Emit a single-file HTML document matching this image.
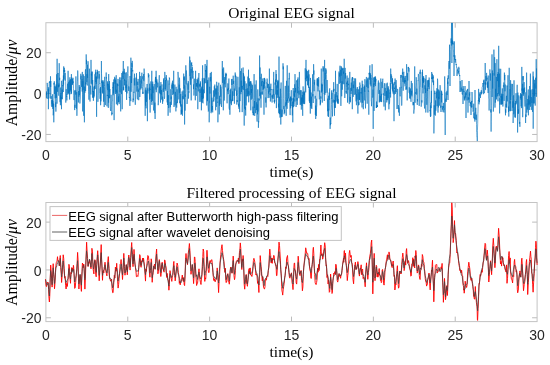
<!DOCTYPE html>
<html><head><meta charset="utf-8"><style>
html,body{margin:0;padding:0;background:#fff;}
svg{display:block;}
.tk{font-family:"Liberation Sans",Arial,sans-serif;font-size:14px;fill:#262626;}
.ti{font-family:"Liberation Serif","Times New Roman",serif;font-size:15.5px;fill:#000;}
.lg{font-family:"Liberation Sans",Arial,sans-serif;font-size:13px;fill:#000;}
</style></head><body>
<svg width="550" height="365" viewBox="0 0 550 365">
<line x1="127.77" y1="141.60" x2="127.77" y2="136.60" stroke="#bcbcbc" stroke-width="1"/>
<line x1="127.77" y1="22.70" x2="127.77" y2="27.70" stroke="#bcbcbc" stroke-width="1"/>
<line x1="209.63" y1="141.60" x2="209.63" y2="136.60" stroke="#bcbcbc" stroke-width="1"/>
<line x1="209.63" y1="22.70" x2="209.63" y2="27.70" stroke="#bcbcbc" stroke-width="1"/>
<line x1="291.50" y1="141.60" x2="291.50" y2="136.60" stroke="#bcbcbc" stroke-width="1"/>
<line x1="291.50" y1="22.70" x2="291.50" y2="27.70" stroke="#bcbcbc" stroke-width="1"/>
<line x1="373.37" y1="141.60" x2="373.37" y2="136.60" stroke="#bcbcbc" stroke-width="1"/>
<line x1="373.37" y1="22.70" x2="373.37" y2="27.70" stroke="#bcbcbc" stroke-width="1"/>
<line x1="455.23" y1="141.60" x2="455.23" y2="136.60" stroke="#bcbcbc" stroke-width="1"/>
<line x1="455.23" y1="22.70" x2="455.23" y2="27.70" stroke="#bcbcbc" stroke-width="1"/>
<line x1="45.90" y1="134.45" x2="50.90" y2="134.45" stroke="#bcbcbc" stroke-width="1"/>
<line x1="537.10" y1="134.45" x2="532.10" y2="134.45" stroke="#bcbcbc" stroke-width="1"/>
<line x1="45.90" y1="93.59" x2="50.90" y2="93.59" stroke="#bcbcbc" stroke-width="1"/>
<line x1="537.10" y1="93.59" x2="532.10" y2="93.59" stroke="#bcbcbc" stroke-width="1"/>
<line x1="45.90" y1="52.73" x2="50.90" y2="52.73" stroke="#bcbcbc" stroke-width="1"/>
<line x1="537.10" y1="52.73" x2="532.10" y2="52.73" stroke="#bcbcbc" stroke-width="1"/>
<rect x="45.90" y="22.70" width="491.20" height="118.90" fill="none" stroke="#c4c4c4" stroke-width="1"/>
<line x1="127.77" y1="321.60" x2="127.77" y2="316.60" stroke="#bcbcbc" stroke-width="1"/>
<line x1="127.77" y1="202.50" x2="127.77" y2="207.50" stroke="#bcbcbc" stroke-width="1"/>
<line x1="209.63" y1="321.60" x2="209.63" y2="316.60" stroke="#bcbcbc" stroke-width="1"/>
<line x1="209.63" y1="202.50" x2="209.63" y2="207.50" stroke="#bcbcbc" stroke-width="1"/>
<line x1="291.50" y1="321.60" x2="291.50" y2="316.60" stroke="#bcbcbc" stroke-width="1"/>
<line x1="291.50" y1="202.50" x2="291.50" y2="207.50" stroke="#bcbcbc" stroke-width="1"/>
<line x1="373.37" y1="321.60" x2="373.37" y2="316.60" stroke="#bcbcbc" stroke-width="1"/>
<line x1="373.37" y1="202.50" x2="373.37" y2="207.50" stroke="#bcbcbc" stroke-width="1"/>
<line x1="455.23" y1="321.60" x2="455.23" y2="316.60" stroke="#bcbcbc" stroke-width="1"/>
<line x1="455.23" y1="202.50" x2="455.23" y2="207.50" stroke="#bcbcbc" stroke-width="1"/>
<line x1="45.90" y1="317.77" x2="50.90" y2="317.77" stroke="#bcbcbc" stroke-width="1"/>
<line x1="537.10" y1="317.77" x2="532.10" y2="317.77" stroke="#bcbcbc" stroke-width="1"/>
<line x1="45.90" y1="269.94" x2="50.90" y2="269.94" stroke="#bcbcbc" stroke-width="1"/>
<line x1="537.10" y1="269.94" x2="532.10" y2="269.94" stroke="#bcbcbc" stroke-width="1"/>
<line x1="45.90" y1="222.11" x2="50.90" y2="222.11" stroke="#bcbcbc" stroke-width="1"/>
<line x1="537.10" y1="222.11" x2="532.10" y2="222.11" stroke="#bcbcbc" stroke-width="1"/>
<rect x="45.90" y="202.50" width="491.20" height="119.10" fill="none" stroke="#c4c4c4" stroke-width="1"/>
<clipPath id="ct"><rect x="45.9" y="22.7" width="491.20000000000005" height="118.89999999999999"/></clipPath>
<polyline clip-path="url(#ct)" fill="none" stroke="#0072BD" stroke-width="0.6" stroke-linejoin="round" points="45.9,95.8 46.0,98.0 46.2,93.4 46.3,95.2 46.5,91.5 46.6,96.7 46.8,96.8 46.9,98.5 47.1,86.4 47.2,82.9 47.4,84.6 47.5,86.6 47.7,91.1 47.8,91.9 48.0,93.5 48.1,99.0 48.3,89.0 48.4,109.2 48.6,87.3 48.7,94.1 48.9,90.7 49.0,90.8 49.2,82.5 49.3,81.7 49.5,81.6 49.6,82.8 49.8,81.4 49.9,86.8 50.1,98.4 50.2,95.9 50.4,85.3 50.5,76.3 50.7,86.9 50.8,81.0 51.0,93.9 51.1,98.9 51.3,96.2 51.4,106.0 51.6,106.7 51.7,105.6 51.9,100.2 52.0,103.7 52.2,99.9 52.3,101.6 52.5,106.7 52.6,94.3 52.8,108.9 52.9,100.8 53.1,103.2 53.2,115.3 53.4,112.9 53.5,103.6 53.7,104.1 53.8,122.3 54.0,82.9 54.1,84.6 54.3,81.3 54.4,84.6 54.6,94.0 54.7,91.4 54.9,85.8 55.0,90.3 55.2,98.3 55.3,86.7 55.5,93.7 55.6,107.1 55.8,102.4 55.9,111.6 56.1,90.2 56.2,84.4 56.4,97.9 56.5,80.3 56.7,74.3 56.8,80.3 57.0,103.7 57.1,58.8 57.3,83.1 57.4,87.5 57.6,91.8 57.7,81.5 57.9,73.0 58.0,74.1 58.2,73.5 58.3,76.0 58.5,87.3 58.6,85.0 58.8,95.7 58.9,83.4 59.1,86.6 59.2,63.2 59.4,76.4 59.5,80.1 59.7,77.8 59.8,97.9 60.0,101.3 60.1,102.2 60.3,95.4 60.4,105.2 60.6,96.0 60.7,87.5 60.9,98.9 61.0,93.0 61.2,99.2 61.3,97.1 61.5,109.2 61.6,80.8 61.8,88.1 61.9,89.7 62.1,93.4 62.2,89.6 62.4,99.2 62.5,91.2 62.7,85.1 62.8,85.1 63.0,86.2 63.1,79.5 63.3,92.0 63.4,75.5 63.6,84.6 63.7,66.4 63.9,78.9 64.0,70.0 64.2,72.0 64.3,67.8 64.5,71.6 64.6,71.2 64.8,70.5 64.9,80.4 65.1,73.0 65.2,75.7 65.4,77.2 65.5,81.2 65.7,81.5 65.8,102.6 66.0,91.6 66.1,89.7 66.3,89.2 66.4,93.1 66.6,96.9 66.7,96.3 66.9,100.4 67.0,94.2 67.2,94.9 67.3,87.8 67.5,83.8 67.6,83.7 67.8,93.9 67.9,87.2 68.1,70.8 68.2,92.1 68.4,93.2 68.5,92.3 68.7,82.1 68.8,90.9 69.0,94.4 69.1,87.1 69.3,80.6 69.4,87.5 69.6,99.5 69.7,82.5 69.9,77.3 70.0,91.6 70.2,90.6 70.3,79.6 70.5,86.0 70.6,90.2 70.8,79.2 70.9,94.2 71.1,92.7 71.2,88.2 71.4,74.1 71.5,93.6 71.7,82.6 71.8,77.7 72.0,80.4 72.1,81.1 72.3,85.0 72.4,79.0 72.6,84.2 72.7,80.9 72.9,80.6 73.0,77.8 73.2,82.8 73.3,81.4 73.5,88.7 73.6,90.2 73.8,95.3 73.9,99.0 74.1,100.1 74.2,95.9 74.4,90.4 74.5,107.3 74.7,110.1 74.8,106.5 75.0,104.8 75.1,107.9 75.3,105.5 75.4,102.8 75.6,90.3 75.7,94.6 75.9,76.4 76.0,89.2 76.2,90.6 76.3,92.5 76.5,108.7 76.6,106.7 76.8,92.1 76.9,115.8 77.1,102.1 77.2,85.5 77.4,81.9 77.5,81.2 77.7,70.5 77.8,71.7 78.0,77.7 78.1,90.8 78.3,93.2 78.4,102.5 78.6,95.9 78.7,91.0 78.9,96.7 79.0,92.6 79.2,85.0 79.3,93.9 79.5,95.1 79.6,94.2 79.8,86.8 79.9,103.5 80.1,99.4 80.2,98.1 80.4,89.4 80.5,80.6 80.7,76.2 80.8,73.8 81.0,79.2 81.1,75.7 81.3,80.9 81.4,80.9 81.6,86.9 81.7,80.4 81.9,79.0 82.0,85.3 82.2,91.6 82.3,71.9 82.5,94.7 82.6,111.4 82.8,103.1 82.9,81.2 83.1,89.9 83.2,77.4 83.4,74.4 83.5,103.8 83.7,115.8 83.8,100.8 84.0,88.6 84.1,76.1 84.3,90.0 84.4,122.3 84.6,88.9 84.7,86.6 84.9,92.8 85.0,91.9 85.2,84.5 85.3,71.5 85.5,69.3 85.6,91.0 85.8,82.4 85.9,84.4 86.1,62.5 86.2,54.4 86.4,64.2 86.5,59.9 86.7,77.5 86.8,82.2 87.0,74.1 87.1,83.2 87.3,85.5 87.4,64.7 87.6,77.9 87.7,70.4 87.9,68.7 88.0,61.2 88.2,65.1 88.3,73.9 88.5,86.1 88.6,91.7 88.8,94.7 88.9,99.7 89.1,78.6 89.2,76.4 89.4,68.7 89.5,88.7 89.7,89.8 89.8,95.6 90.0,101.5 90.1,88.4 90.3,88.6 90.4,85.7 90.6,86.0 90.7,88.6 90.9,94.5 91.0,59.9 91.2,83.7 91.3,73.7 91.5,75.6 91.6,75.3 91.8,71.6 91.9,82.0 92.1,84.5 92.2,71.7 92.4,87.8 92.5,97.7 92.7,80.0 92.8,86.2 93.0,92.1 93.1,91.0 93.3,91.5 93.4,100.8 93.6,91.1 93.7,98.0 93.9,92.7 94.0,86.6 94.2,96.5 94.3,91.7 94.5,85.8 94.6,89.4 94.8,83.9 94.9,74.3 95.1,75.8 95.2,88.9 95.4,72.5 95.5,74.4 95.7,69.7 95.8,82.0 96.0,77.9 96.1,76.5 96.3,83.9 96.4,76.8 96.6,116.8 96.7,80.7 96.9,74.4 97.0,72.2 97.2,78.6 97.3,69.8 97.5,73.7 97.6,71.6 97.8,81.1 97.9,101.8 98.1,97.1 98.2,95.5 98.4,85.6 98.5,85.2 98.7,83.8 98.8,75.5 99.0,71.0 99.1,78.5 99.3,74.2 99.4,76.2 99.6,80.9 99.7,83.7 99.9,83.2 100.0,98.8 100.2,88.4 100.3,93.0 100.5,87.0 100.6,105.2 100.8,92.7 100.9,101.4 101.1,96.7 101.2,96.3 101.4,61.0 101.5,73.5 101.7,77.0 101.8,83.1 102.0,80.5 102.1,92.6 102.3,89.7 102.4,81.7 102.6,82.9 102.7,93.5 102.9,84.3 103.0,80.2 103.2,87.7 103.3,81.6 103.5,94.3 103.6,101.7 103.8,87.4 103.9,88.0 104.1,96.4 104.2,107.0 104.4,85.1 104.5,85.5 104.7,76.8 104.8,79.9 105.0,94.5 105.1,99.1 105.3,105.1 105.4,104.9 105.6,93.0 105.7,89.9 105.9,84.6 106.0,79.2 106.2,72.5 106.3,78.4 106.5,77.3 106.6,86.0 106.8,89.9 106.9,106.0 107.1,106.4 107.2,94.9 107.4,95.9 107.5,81.4 107.7,90.1 107.8,83.8 108.0,85.3 108.1,83.9 108.3,107.9 108.4,95.4 108.6,102.7 108.7,74.1 108.9,98.2 109.0,85.5 109.2,90.0 109.3,91.7 109.5,81.1 109.6,98.2 109.8,92.2 109.9,89.0 110.1,98.3 110.2,106.5 110.4,108.7 110.5,110.9 110.7,110.2 110.8,109.2 111.0,101.3 111.1,94.8 111.3,104.6 111.4,109.2 111.6,111.3 111.7,115.3 111.9,114.0 112.0,112.7 112.2,114.1 112.3,101.0 112.5,101.0 112.6,89.5 112.8,87.4 112.9,88.0 113.1,82.1 113.2,95.2 113.4,82.6 113.5,93.4 113.7,81.6 113.8,79.4 114.0,82.8 114.1,120.1 114.3,82.5 114.4,80.9 114.6,79.3 114.7,76.8 114.9,83.6 115.0,78.3 115.2,80.5 115.3,91.8 115.5,93.9 115.6,79.9 115.8,83.8 115.9,92.1 116.1,85.5 116.2,75.2 116.4,104.3 116.5,100.0 116.7,89.7 116.8,93.3 117.0,92.9 117.1,83.3 117.3,92.1 117.4,96.5 117.6,105.3 117.7,84.0 117.9,86.1 118.0,78.9 118.2,84.3 118.3,89.3 118.5,102.3 118.6,96.4 118.8,99.9 118.9,101.9 119.1,93.7 119.2,104.1 119.4,94.5 119.5,81.7 119.7,77.3 119.8,83.3 120.0,92.3 120.1,80.2 120.3,93.5 120.4,95.5 120.6,103.4 120.7,111.4 120.9,79.1 121.0,77.5 121.2,78.8 121.3,86.7 121.5,94.1 121.6,88.9 121.8,73.0 121.9,81.2 122.1,86.2 122.2,109.2 122.4,86.7 122.5,80.8 122.7,71.5 122.8,77.0 123.0,76.7 123.1,78.9 123.3,61.0 123.4,90.2 123.6,86.8 123.7,90.3 123.9,81.4 124.0,71.4 124.2,74.1 124.3,68.8 124.5,85.3 124.6,79.3 124.8,80.7 124.9,80.9 125.1,77.9 125.2,72.7 125.4,79.4 125.5,89.9 125.7,91.9 125.8,83.3 126.0,80.6 126.1,88.1 126.3,72.3 126.4,84.5 126.6,99.9 126.7,84.6 126.9,90.5 127.0,93.4 127.2,86.5 127.3,78.7 127.5,73.6 127.6,72.3 127.8,68.2 127.9,66.4 128.1,73.6 128.2,78.5 128.4,83.0 128.5,89.6 128.7,90.9 128.8,86.4 129.0,87.4 129.1,87.5 129.3,98.0 129.4,97.2 129.6,97.6 129.7,97.5 129.9,105.9 130.0,76.0 130.2,85.5 130.3,93.8 130.5,96.0 130.6,97.3 130.8,101.2 130.9,57.7 131.1,91.8 131.2,85.2 131.4,68.0 131.5,83.0 131.7,75.8 131.8,62.9 132.0,67.2 132.1,62.0 132.3,60.9 132.4,63.7 132.6,71.4 132.7,70.1 132.9,88.4 133.0,102.2 133.2,98.6 133.3,99.2 133.5,100.2 133.6,93.4 133.8,91.8 133.9,92.7 134.1,83.2 134.2,78.3 134.4,85.4 134.5,73.7 134.7,80.5 134.8,92.0 135.0,94.5 135.1,99.0 135.3,104.8 135.4,99.5 135.6,97.0 135.7,85.9 135.9,78.0 136.0,77.6 136.2,84.2 136.3,85.7 136.5,73.2 136.6,80.7 136.8,91.6 136.9,86.2 137.1,87.0 137.2,97.1 137.4,99.4 137.5,88.4 137.7,81.7 137.8,85.1 138.0,82.9 138.1,78.9 138.3,89.9 138.4,91.8 138.6,89.7 138.7,100.2 138.9,95.7 139.0,88.6 139.2,89.5 139.3,84.9 139.5,83.3 139.6,71.9 139.8,97.0 139.9,94.7 140.1,88.1 140.2,76.0 140.4,79.5 140.5,82.3 140.7,81.7 140.8,89.5 141.0,83.4 141.1,88.2 141.3,84.6 141.4,79.3 141.6,83.5 141.7,74.4 141.9,72.7 142.0,79.2 142.2,78.2 142.3,76.3 142.5,86.3 142.6,91.9 142.8,94.0 142.9,91.8 143.1,93.6 143.2,87.3 143.4,86.2 143.5,76.0 143.7,74.0 143.8,80.7 144.0,74.7 144.1,68.6 144.3,71.5 144.4,75.5 144.6,77.9 144.7,82.4 144.9,90.4 145.0,98.6 145.2,115.8 145.3,89.7 145.5,103.2 145.6,105.7 145.8,87.6 145.9,103.8 146.1,108.3 146.2,90.4 146.4,92.8 146.5,101.8 146.7,100.3 146.8,93.2 147.0,88.5 147.1,84.0 147.3,105.0 147.4,121.2 147.6,99.4 147.7,88.4 147.9,93.5 148.0,84.9 148.2,82.2 148.3,73.2 148.5,77.3 148.6,76.1 148.8,75.8 148.9,74.6 149.1,78.3 149.2,91.2 149.4,87.6 149.5,99.6 149.7,83.7 149.8,93.4 150.0,99.9 150.1,112.6 150.3,97.5 150.4,88.9 150.6,89.6 150.7,86.9 150.9,81.4 151.0,87.8 151.2,98.7 151.3,93.7 151.5,101.8 151.6,87.2 151.8,70.8 151.9,104.9 152.1,89.4 152.2,88.4 152.4,83.9 152.5,100.8 152.7,81.6 152.8,85.4 153.0,93.1 153.1,86.4 153.3,88.2 153.4,105.3 153.6,110.5 153.7,107.4 153.9,106.8 154.0,95.8 154.2,84.1 154.3,100.8 154.5,105.2 154.6,104.8 154.8,113.1 154.9,102.6 155.1,119.0 155.2,81.3 155.4,78.7 155.5,77.1 155.7,82.0 155.8,76.8 156.0,89.6 156.1,70.8 156.3,92.2 156.4,81.0 156.6,83.3 156.7,79.5 156.9,79.2 157.0,79.9 157.2,80.7 157.3,82.1 157.5,85.5 157.6,87.4 157.8,85.5 157.9,82.6 158.1,86.7 158.2,105.2 158.4,102.8 158.5,100.3 158.7,93.7 158.8,88.8 159.0,80.3 159.1,78.6 159.3,75.2 159.4,80.4 159.6,92.8 159.7,88.0 159.9,86.4 160.0,91.3 160.2,94.1 160.3,85.8 160.5,102.6 160.6,88.7 160.8,83.9 160.9,82.1 161.1,90.3 161.2,93.7 161.4,94.5 161.5,90.1 161.7,99.6 161.8,87.8 162.0,84.4 162.1,93.6 162.3,99.4 162.4,100.3 162.6,103.8 162.7,96.7 162.9,101.4 163.0,96.0 163.2,88.5 163.3,91.9 163.5,88.7 163.6,79.4 163.8,89.1 163.9,78.1 164.1,86.5 164.2,95.8 164.4,97.4 164.5,98.8 164.7,96.9 164.8,71.9 165.0,78.4 165.1,78.3 165.3,77.6 165.4,89.3 165.6,87.7 165.7,80.0 165.9,90.8 166.0,87.7 166.2,80.8 166.3,75.1 166.5,80.4 166.6,78.6 166.8,80.7 166.9,87.6 167.1,99.2 167.2,102.4 167.4,91.0 167.5,105.0 167.7,93.0 167.8,88.6 168.0,80.4 168.1,115.8 168.3,100.7 168.4,100.1 168.6,95.2 168.7,108.0 168.9,103.2 169.0,83.8 169.2,84.4 169.3,77.5 169.5,78.5 169.6,78.1 169.8,93.8 169.9,106.7 170.1,112.6 170.2,102.1 170.4,107.2 170.5,103.6 170.7,100.3 170.8,89.2 171.0,99.2 171.1,99.0 171.3,96.6 171.4,104.9 171.6,99.5 171.7,88.1 171.9,84.6 172.0,89.0 172.2,82.7 172.3,88.0 172.5,80.7 172.6,92.6 172.8,95.0 172.9,91.0 173.1,90.3 173.2,84.0 173.4,93.8 173.5,92.0 173.7,70.8 173.8,97.0 174.0,107.0 174.1,104.8 174.3,102.4 174.4,100.3 174.6,98.0 174.7,87.9 174.9,84.6 175.0,105.4 175.2,103.1 175.3,91.8 175.5,95.6 175.6,95.3 175.8,101.6 175.9,111.4 176.1,86.8 176.2,92.6 176.4,102.7 176.5,102.4 176.7,107.6 176.8,104.7 177.0,100.7 177.1,89.3 177.3,97.9 177.4,103.1 177.6,100.6 177.7,95.3 177.9,85.6 178.0,71.9 178.2,75.5 178.3,75.5 178.5,82.5 178.6,92.1 178.8,95.6 178.9,99.4 179.1,88.9 179.2,84.7 179.4,92.8 179.5,77.7 179.7,81.2 179.8,103.0 180.0,99.6 180.1,88.3 180.3,104.3 180.4,101.2 180.6,106.5 180.7,94.0 180.9,110.7 181.0,114.8 181.2,114.5 181.3,109.9 181.5,114.0 181.6,104.4 181.8,104.9 181.9,112.3 182.1,91.5 182.2,110.0 182.4,114.4 182.5,115.7 182.7,108.0 182.8,96.0 183.0,99.4 183.1,90.5 183.3,98.8 183.4,92.0 183.6,86.4 183.7,73.6 183.9,88.6 184.0,77.2 184.2,80.2 184.3,76.4 184.5,90.4 184.6,124.5 184.8,85.3 184.9,95.0 185.1,110.6 185.2,94.5 185.4,96.8 185.5,93.7 185.7,83.5 185.8,65.3 186.0,84.5 186.1,76.2 186.3,70.5 186.4,72.1 186.6,74.4 186.7,77.3 186.9,92.5 187.0,104.0 187.2,103.4 187.3,101.9 187.5,96.2 187.6,95.0 187.8,84.7 187.9,83.4 188.1,89.7 188.2,81.2 188.4,81.3 188.5,98.6 188.7,92.9 188.8,91.4 189.0,92.6 189.1,81.7 189.3,80.3 189.4,63.8 189.6,61.0 189.7,56.6 189.9,62.7 190.0,76.1 190.2,60.4 190.3,66.9 190.5,84.7 190.6,76.7 190.8,79.6 190.9,75.9 191.1,69.0 191.2,100.4 191.4,63.2 191.5,64.9 191.7,62.3 191.8,65.8 192.0,65.0 192.1,72.7 192.3,67.2 192.4,71.9 192.6,78.5 192.7,72.5 192.9,72.4 193.0,70.8 193.2,71.1 193.3,75.5 193.5,89.1 193.6,84.4 193.8,90.5 193.9,95.5 194.1,92.1 194.2,86.0 194.4,85.5 194.5,80.5 194.7,78.7 194.8,81.0 195.0,85.6 195.1,91.8 195.3,100.3 195.4,87.8 195.6,70.8 195.7,87.2 195.9,89.4 196.0,88.4 196.2,88.8 196.3,95.9 196.5,83.0 196.6,86.4 196.8,82.6 196.9,79.9 197.1,79.0 197.2,87.5 197.4,82.3 197.5,80.8 197.7,79.9 197.8,109.2 198.0,85.0 198.1,77.7 198.3,91.4 198.4,79.6 198.6,78.1 198.7,77.2 198.9,73.0 199.0,77.7 199.2,80.1 199.3,86.5 199.5,84.3 199.6,88.9 199.8,101.9 199.9,89.2 200.1,92.9 200.2,83.2 200.4,86.6 200.5,81.4 200.7,89.5 200.8,98.1 201.0,101.7 201.1,92.3 201.3,88.4 201.4,110.3 201.6,88.2 201.7,86.7 201.9,97.0 202.0,96.1 202.2,102.6 202.3,78.4 202.5,99.0 202.6,65.3 202.8,102.2 202.9,102.9 203.1,103.3 203.2,92.2 203.4,89.5 203.5,98.4 203.7,84.0 203.8,79.3 204.0,77.9 204.1,79.2 204.3,93.2 204.4,85.0 204.6,78.7 204.7,83.4 204.9,72.6 205.0,64.9 205.2,64.0 205.3,67.5 205.5,71.5 205.6,70.1 205.8,83.1 205.9,70.9 206.1,70.1 206.2,76.0 206.4,77.4 206.5,65.8 206.7,89.2 206.8,105.5 207.0,59.9 207.1,89.9 207.3,100.6 207.4,81.7 207.6,101.2 207.7,79.9 207.9,91.5 208.0,106.8 208.2,109.0 208.3,111.5 208.5,110.8 208.6,104.3 208.8,101.1 208.9,77.5 209.1,90.7 209.2,122.3 209.4,101.7 209.5,102.3 209.7,86.8 209.8,88.9 210.0,93.6 210.1,76.9 210.3,73.0 210.4,81.3 210.6,81.2 210.7,76.9 210.9,91.1 211.0,112.7 211.2,113.2 211.3,71.9 211.5,111.6 211.6,111.1 211.8,108.9 211.9,97.7 212.1,109.5 212.2,109.8 212.4,106.0 212.5,107.6 212.7,112.4 212.8,101.6 213.0,100.6 213.1,101.6 213.3,94.8 213.4,90.4 213.6,100.9 213.7,100.7 213.9,101.4 214.0,99.0 214.2,99.2 214.3,86.3 214.5,96.6 214.6,93.3 214.8,84.6 214.9,88.0 215.1,89.2 215.2,90.5 215.4,90.6 215.5,100.7 215.7,110.3 215.8,88.7 216.0,94.5 216.1,88.4 216.3,104.3 216.4,105.8 216.6,106.8 216.7,81.8 216.9,89.9 217.0,98.9 217.2,93.9 217.3,85.7 217.5,88.9 217.6,102.7 217.8,101.7 217.9,122.3 218.1,112.3 218.2,106.9 218.4,99.8 218.5,92.1 218.7,91.8 218.8,82.7 219.0,91.2 219.1,99.5 219.3,114.4 219.4,99.7 219.6,95.8 219.7,105.8 219.9,98.8 220.0,104.2 220.2,101.8 220.3,100.6 220.5,84.8 220.6,89.6 220.8,96.7 220.9,86.7 221.1,94.0 221.2,98.6 221.4,102.2 221.5,107.0 221.7,100.3 221.8,89.1 222.0,88.5 222.1,88.2 222.3,61.0 222.4,75.7 222.6,82.9 222.7,68.8 222.9,73.7 223.0,74.4 223.2,74.4 223.3,110.3 223.5,78.0 223.6,67.5 223.8,74.2 223.9,83.6 224.1,88.9 224.2,100.6 224.4,98.8 224.5,98.1 224.7,77.1 224.8,84.3 225.0,79.6 225.1,84.8 225.3,87.3 225.4,81.4 225.6,73.9 225.7,79.6 225.9,72.8 226.0,74.0 226.2,73.9 226.3,75.5 226.5,74.2 226.6,80.1 226.8,91.7 226.9,100.2 227.1,103.3 227.2,101.8 227.4,91.5 227.5,88.9 227.7,91.5 227.8,83.4 228.0,83.9 228.1,94.1 228.3,87.8 228.4,89.7 228.6,89.2 228.7,87.9 228.9,78.5 229.0,108.3 229.2,108.6 229.3,109.3 229.5,109.8 229.6,104.2 229.8,94.6 229.9,114.7 230.1,89.9 230.2,93.7 230.4,100.5 230.5,93.6 230.7,88.7 230.8,93.9 231.0,103.5 231.1,99.6 231.3,101.8 231.4,105.1 231.6,97.1 231.7,79.2 231.9,85.0 232.0,78.9 232.2,84.0 232.3,97.7 232.5,101.2 232.6,91.4 232.8,101.0 232.9,93.6 233.1,86.9 233.2,75.7 233.4,83.9 233.5,83.1 233.7,80.8 233.8,84.4 234.0,95.9 234.1,93.1 234.3,88.6 234.4,103.7 234.6,94.4 234.7,86.3 234.9,85.5 235.0,78.5 235.2,72.5 235.3,77.1 235.5,75.8 235.6,74.7 235.8,89.6 235.9,90.6 236.1,76.4 236.2,78.7 236.4,85.8 236.5,95.8 236.7,90.4 236.8,104.6 237.0,100.4 237.1,100.0 237.3,102.1 237.4,95.6 237.6,92.8 237.7,85.7 237.9,76.8 238.0,80.7 238.2,94.5 238.3,96.4 238.5,106.5 238.6,104.1 238.8,103.7 238.9,108.8 239.1,104.8 239.2,87.4 239.4,87.4 239.5,105.9 239.7,112.2 239.8,56.6 240.0,101.1 240.1,88.8 240.3,80.5 240.4,75.7 240.6,71.0 240.7,77.8 240.9,94.2 241.0,89.5 241.2,80.6 241.3,84.3 241.5,92.0 241.6,68.4 241.8,87.3 241.9,86.1 242.1,101.1 242.2,112.1 242.4,105.1 242.5,105.1 242.7,85.9 242.8,89.4 243.0,75.1 243.1,67.5 243.3,86.1 243.4,73.0 243.6,75.9 243.7,74.6 243.9,89.9 244.0,76.3 244.2,125.6 244.3,76.6 244.5,108.7 244.6,103.3 244.8,90.5 244.9,81.2 245.1,83.3 245.2,94.4 245.4,110.1 245.5,106.9 245.7,115.6 245.8,104.0 246.0,89.1 246.1,105.4 246.3,83.5 246.4,90.1 246.6,90.3 246.7,92.5 246.9,96.3 247.0,95.3 247.2,96.3 247.3,88.3 247.5,95.5 247.6,95.5 247.8,90.4 247.9,76.6 248.1,94.1 248.2,87.7 248.4,80.5 248.5,69.7 248.7,102.3 248.8,91.2 249.0,96.1 249.1,82.5 249.3,78.3 249.4,86.1 249.6,81.7 249.7,83.2 249.9,94.9 250.0,90.2 250.2,85.4 250.3,82.6 250.5,83.3 250.6,81.2 250.8,110.3 250.9,81.4 251.1,91.3 251.2,99.7 251.4,89.0 251.5,92.8 251.7,88.6 251.8,83.6 252.0,88.8 252.1,98.7 252.3,92.5 252.4,85.1 252.6,91.3 252.7,97.8 252.9,112.9 253.0,106.6 253.2,115.2 253.3,111.8 253.5,115.2 253.6,104.1 253.8,98.5 253.9,97.5 254.1,74.1 254.2,101.3 254.4,108.0 254.5,101.0 254.7,115.9 254.8,110.3 255.0,103.2 255.1,84.5 255.3,104.2 255.4,108.5 255.6,113.1 255.7,107.8 255.9,100.6 256.0,92.5 256.2,80.4 256.3,90.6 256.5,110.1 256.6,102.3 256.8,112.3 256.9,117.7 257.1,121.6 257.2,113.2 257.4,104.4 257.5,114.3 257.7,99.7 257.8,89.4 258.0,111.6 258.1,98.4 258.3,119.1 258.4,127.8 258.6,121.3 258.7,122.3 258.9,117.9 259.0,115.3 259.2,98.6 259.3,100.4 259.5,90.6 259.6,55.5 259.8,96.1 259.9,77.7 260.1,67.5 260.2,78.4 260.4,77.5 260.5,95.7 260.7,98.5 260.8,92.4 261.0,107.7 261.1,84.3 261.3,74.7 261.4,73.8 261.6,86.2 261.7,81.4 261.9,94.3 262.0,93.6 262.2,91.6 262.3,94.6 262.5,81.4 262.6,82.1 262.8,78.5 262.9,83.0 263.1,89.8 263.2,88.5 263.4,84.7 263.5,88.8 263.7,81.6 263.8,92.1 264.0,114.7 264.1,78.0 264.3,88.4 264.4,83.2 264.6,77.9 264.7,83.9 264.9,79.3 265.0,83.6 265.2,85.6 265.3,85.9 265.5,86.5 265.6,91.2 265.8,102.6 265.9,97.4 266.1,107.4 266.2,98.8 266.4,97.4 266.5,88.4 266.7,82.6 266.8,83.3 267.0,78.6 267.1,78.6 267.3,79.5 267.4,82.7 267.6,87.9 267.7,83.5 267.9,92.5 268.0,98.1 268.2,94.1 268.3,86.2 268.5,84.1 268.6,93.5 268.8,90.8 268.9,92.3 269.1,97.8 269.2,90.2 269.4,68.6 269.5,81.2 269.7,91.6 269.8,86.6 270.0,92.6 270.1,94.9 270.3,93.5 270.4,101.5 270.6,88.8 270.7,86.0 270.9,83.7 271.0,90.1 271.2,89.1 271.3,94.8 271.5,96.8 271.6,96.6 271.8,98.4 271.9,99.3 272.1,102.5 272.2,94.7 272.4,98.7 272.5,97.6 272.7,95.3 272.8,97.6 273.0,93.4 273.1,89.0 273.3,95.3 273.4,83.3 273.6,77.5 273.7,71.9 273.9,98.9 274.0,94.4 274.2,101.9 274.3,100.4 274.5,103.4 274.6,99.6 274.8,101.5 274.9,88.6 275.1,82.5 275.2,84.6 275.4,82.9 275.5,79.6 275.7,93.0 275.8,94.5 276.0,70.1 276.1,82.0 276.3,74.0 276.4,108.1 276.6,89.4 276.7,85.4 276.9,89.1 277.0,97.9 277.2,92.3 277.3,90.0 277.5,94.7 277.6,81.7 277.8,87.8 277.9,79.9 278.1,97.6 278.2,80.9 278.4,107.3 278.5,107.4 278.7,103.7 278.8,112.9 279.0,56.6 279.1,105.8 279.3,114.2 279.4,96.7 279.6,102.3 279.7,113.8 279.9,109.0 280.0,117.6 280.2,104.6 280.3,88.8 280.5,88.8 280.6,98.7 280.8,124.5 280.9,86.9 281.1,82.5 281.2,92.5 281.4,98.5 281.5,117.1 281.7,113.5 281.8,112.6 282.0,109.6 282.1,116.2 282.3,116.8 282.4,114.1 282.6,109.2 282.7,109.1 282.9,70.3 283.0,63.3 283.2,69.3 283.3,66.5 283.5,67.9 283.6,98.5 283.8,109.2 283.9,105.9 284.1,114.2 284.2,114.3 284.4,111.9 284.5,109.6 284.7,112.9 284.8,104.0 285.0,99.6 285.1,94.2 285.3,85.9 285.4,96.8 285.6,102.7 285.7,106.4 285.9,102.2 286.0,106.4 286.2,115.8 286.3,100.8 286.5,80.8 286.6,104.7 286.8,101.2 286.9,100.0 287.1,108.8 287.2,65.3 287.4,92.3 287.5,100.9 287.7,98.6 287.8,99.1 288.0,102.0 288.1,102.8 288.3,85.7 288.4,98.5 288.6,96.8 288.7,80.6 288.9,79.1 289.0,78.4 289.2,79.2 289.3,72.8 289.5,92.6 289.6,101.3 289.8,98.5 289.9,104.6 290.1,115.1 290.2,106.5 290.4,96.8 290.5,108.3 290.7,107.6 290.8,96.6 291.0,105.6 291.1,94.9 291.3,90.2 291.4,98.9 291.6,98.9 291.7,100.5 291.9,98.2 292.0,106.2 292.2,105.0 292.3,115.4 292.5,106.7 292.6,101.6 292.8,122.3 292.9,98.5 293.1,98.4 293.2,88.0 293.4,107.2 293.5,97.9 293.7,103.6 293.8,98.9 294.0,106.3 294.1,90.9 294.3,95.9 294.4,93.6 294.6,97.1 294.7,84.3 294.9,101.5 295.0,74.1 295.2,85.8 295.3,87.8 295.5,92.4 295.6,88.0 295.8,89.8 295.9,90.2 296.1,107.0 296.2,83.1 296.4,82.4 296.5,80.4 296.7,82.8 296.8,91.0 297.0,100.6 297.1,98.0 297.3,104.9 297.4,96.3 297.6,79.3 297.7,93.2 297.9,79.1 298.0,77.4 298.2,80.6 298.3,87.9 298.5,87.6 298.6,88.0 298.8,98.2 298.9,90.7 299.1,94.6 299.2,86.1 299.4,71.9 299.5,82.1 299.7,87.4 299.8,96.1 300.0,99.2 300.1,104.2 300.3,105.0 300.4,100.1 300.6,90.2 300.7,91.0 300.9,96.0 301.0,104.3 301.2,90.3 301.3,109.6 301.5,97.7 301.6,97.8 301.8,102.7 301.9,105.9 302.1,97.6 302.2,103.5 302.4,95.0 302.5,99.7 302.7,115.8 302.8,91.8 303.0,101.9 303.1,86.4 303.3,95.0 303.4,97.2 303.6,103.8 303.7,100.0 303.9,91.5 304.0,103.5 304.2,93.1 304.3,95.1 304.5,91.7 304.6,104.1 304.8,100.5 304.9,91.7 305.1,87.4 305.2,68.3 305.4,79.3 305.5,78.3 305.7,92.4 305.8,79.0 306.0,59.9 306.1,77.8 306.3,78.3 306.4,69.6 306.6,71.0 306.7,81.2 306.9,71.3 307.0,71.6 307.2,78.1 307.3,75.7 307.5,80.7 307.6,85.0 307.8,70.9 307.9,71.1 308.1,81.1 308.2,85.9 308.4,77.8 308.5,87.8 308.7,69.8 308.8,80.7 309.0,74.4 309.1,79.8 309.3,101.3 309.4,86.8 309.6,102.9 309.7,96.4 309.9,91.7 310.0,89.8 310.2,104.6 310.3,113.6 310.5,77.9 310.6,95.7 310.8,106.2 310.9,96.8 311.1,92.5 311.2,108.0 311.4,101.3 311.5,96.7 311.7,105.5 311.8,109.0 312.0,104.9 312.1,96.7 312.3,92.4 312.4,84.6 312.6,74.3 312.7,96.4 312.9,94.1 313.0,98.7 313.2,103.0 313.3,84.4 313.5,78.1 313.6,64.2 313.8,74.6 313.9,70.5 314.1,91.2 314.2,86.3 314.4,82.2 314.5,84.6 314.7,79.8 314.8,83.9 315.0,88.3 315.1,98.6 315.3,95.9 315.4,114.9 315.6,105.6 315.7,119.0 315.9,115.0 316.0,107.0 316.2,98.7 316.3,116.0 316.5,111.2 316.6,107.7 316.8,105.8 316.9,102.8 317.1,78.5 317.2,85.4 317.4,79.7 317.5,85.7 317.7,78.1 317.8,84.4 318.0,91.4 318.1,86.5 318.3,79.5 318.4,86.5 318.6,82.4 318.7,77.0 318.9,80.9 319.0,87.7 319.2,97.3 319.3,99.4 319.5,92.4 319.6,90.5 319.8,90.6 319.9,94.0 320.1,96.6 320.2,105.3 320.4,99.9 320.5,104.2 320.7,100.6 320.8,96.4 321.0,98.6 321.1,82.2 321.3,68.6 321.4,92.5 321.6,90.1 321.7,83.7 321.9,90.1 322.0,91.3 322.2,84.4 322.3,102.6 322.5,85.5 322.6,85.9 322.8,81.4 322.9,68.8 323.1,66.1 323.2,71.5 323.4,67.6 323.5,70.7 323.7,71.8 323.8,78.5 324.0,94.0 324.1,93.7 324.3,101.0 324.4,96.2 324.6,59.9 324.7,90.1 324.9,94.9 325.0,78.9 325.2,93.1 325.3,73.0 325.5,79.2 325.6,68.9 325.8,68.2 325.9,73.5 326.1,69.5 326.2,70.5 326.4,74.2 326.5,74.7 326.7,86.9 326.8,88.8 327.0,92.7 327.1,80.0 327.3,95.8 327.4,103.0 327.6,111.2 327.7,98.6 327.9,115.7 328.0,116.3 328.2,108.8 328.3,110.7 328.5,116.9 328.6,95.7 328.8,107.2 328.9,110.5 329.1,102.9 329.2,92.5 329.4,99.9 329.5,89.9 329.7,88.4 329.8,97.5 330.0,98.4 330.1,128.9 330.3,117.6 330.4,125.2 330.6,124.3 330.7,123.2 330.9,123.9 331.0,119.2 331.2,116.8 331.3,110.3 331.5,104.4 331.6,90.4 331.8,95.2 331.9,99.0 332.1,92.7 332.2,105.9 332.4,111.2 332.5,116.4 332.7,108.9 332.8,107.2 333.0,99.5 333.1,102.6 333.3,89.8 333.4,92.0 333.6,85.8 333.7,82.2 333.9,90.8 334.0,88.9 334.2,101.9 334.3,100.1 334.5,115.8 334.6,100.1 334.8,108.0 334.9,96.5 335.1,94.2 335.2,100.5 335.4,107.8 335.5,70.8 335.7,102.5 335.8,96.3 336.0,97.0 336.1,93.5 336.3,92.1 336.4,94.3 336.6,96.7 336.7,97.4 336.9,98.8 337.0,101.2 337.2,83.9 337.3,101.9 337.5,95.5 337.6,103.2 337.8,100.6 337.9,103.4 338.1,98.9 338.2,103.8 338.4,92.6 338.5,83.6 338.7,82.1 338.8,76.6 339.0,71.5 339.1,82.9 339.3,83.9 339.4,73.2 339.6,76.6 339.7,70.2 339.9,66.5 340.0,65.7 340.2,76.1 340.3,82.9 340.5,72.9 340.6,69.8 340.8,74.0 340.9,105.9 341.1,66.1 341.2,75.7 341.4,69.0 341.5,67.5 341.7,96.3 341.8,88.0 342.0,81.3 342.1,81.7 342.3,89.7 342.4,69.3 342.6,70.1 342.7,67.8 342.9,83.8 343.0,78.0 343.2,68.2 343.3,69.7 343.5,73.8 343.6,71.6 343.8,81.2 343.9,84.3 344.1,77.7 344.2,58.8 344.4,81.9 344.5,84.4 344.7,89.0 344.8,98.0 345.0,82.6 345.1,67.9 345.3,77.4 345.4,78.5 345.6,73.0 345.7,80.2 345.9,87.2 346.0,92.5 346.2,91.1 346.3,93.8 346.5,91.7 346.6,82.6 346.8,84.1 346.9,78.4 347.1,75.5 347.2,86.9 347.4,80.8 347.5,102.6 347.7,91.5 347.8,87.2 348.0,89.7 348.1,77.8 348.3,85.1 348.4,84.4 348.6,83.8 348.7,84.7 348.9,96.0 349.0,103.0 349.2,103.7 349.3,104.1 349.5,103.7 349.6,99.1 349.8,71.9 349.9,101.5 350.1,101.3 350.2,96.9 350.4,102.3 350.5,96.6 350.7,93.1 350.8,87.9 351.0,94.0 351.1,92.8 351.3,82.6 351.4,90.8 351.6,86.5 351.7,79.3 351.9,78.9 352.0,78.3 352.2,77.4 352.3,109.2 352.5,77.0 352.6,79.5 352.8,79.5 352.9,77.8 353.1,82.1 353.2,96.9 353.4,85.6 353.5,84.7 353.7,88.1 353.8,81.4 354.0,81.8 354.1,81.6 354.3,94.8 354.4,80.4 354.6,79.9 354.7,78.4 354.9,81.1 355.0,81.1 355.2,84.7 355.3,86.8 355.5,94.4 355.6,78.5 355.8,88.1 355.9,92.7 356.1,101.4 356.2,94.0 356.4,105.2 356.5,104.3 356.7,100.0 356.8,89.6 357.0,88.7 357.1,99.6 357.3,87.0 357.4,101.2 357.6,103.5 357.7,104.1 357.9,113.6 358.0,106.2 358.2,105.1 358.3,91.2 358.5,89.4 358.6,105.3 358.8,102.3 358.9,104.9 359.1,92.4 359.2,99.6 359.4,86.3 359.5,100.0 359.7,86.2 359.8,82.5 360.0,85.1 360.1,85.2 360.3,85.1 360.4,85.2 360.6,100.7 360.7,101.6 360.9,102.5 361.0,92.0 361.2,93.5 361.3,88.6 361.5,87.8 361.6,97.2 361.8,103.0 361.9,104.5 362.1,107.5 362.2,80.7 362.4,102.8 362.5,98.7 362.7,85.8 362.8,84.2 363.0,89.9 363.1,99.5 363.3,109.2 363.4,105.2 363.6,103.5 363.7,99.4 363.9,95.8 364.0,86.8 364.2,98.0 364.3,100.4 364.5,85.6 364.6,90.9 364.8,91.9 364.9,79.2 365.1,83.3 365.2,89.4 365.4,101.9 365.5,108.4 365.7,98.6 365.8,98.4 366.0,92.1 366.1,83.5 366.3,77.1 366.4,77.1 366.6,77.1 366.7,86.9 366.9,80.3 367.0,91.2 367.2,103.7 367.3,92.2 367.5,80.1 367.6,78.5 367.8,83.0 367.9,84.4 368.1,88.1 368.2,77.6 368.4,91.7 368.5,90.6 368.7,91.1 368.8,114.7 369.0,84.2 369.1,73.0 369.3,74.4 369.4,72.6 369.6,79.6 369.7,68.4 369.9,65.3 370.0,74.1 370.2,74.4 370.3,84.5 370.5,73.3 370.6,78.1 370.8,75.0 370.9,86.3 371.1,77.9 371.2,101.3 371.4,101.5 371.5,106.2 371.7,95.5 371.8,82.6 372.0,80.3 372.1,64.2 372.3,75.8 372.4,78.1 372.6,80.5 372.7,97.6 372.9,96.8 373.0,89.6 373.2,128.9 373.3,97.3 373.5,83.5 373.6,77.5 373.8,86.9 373.9,83.2 374.1,110.9 374.2,83.9 374.4,84.5 374.5,79.4 374.7,76.9 374.8,81.8 375.0,77.5 375.1,83.8 375.3,76.3 375.4,86.1 375.6,77.7 375.7,81.5 375.9,79.0 376.0,95.0 376.2,105.1 376.3,108.0 376.5,101.6 376.6,108.0 376.8,105.6 376.9,105.6 377.1,106.8 377.2,106.3 377.4,105.0 377.5,107.0 377.7,90.0 377.8,90.0 378.0,83.3 378.1,83.4 378.3,81.5 378.4,80.5 378.6,86.9 378.7,90.6 378.9,93.9 379.0,82.6 379.2,98.5 379.3,102.4 379.5,94.7 379.6,90.1 379.8,93.2 379.9,102.0 380.1,99.4 380.2,95.9 380.4,100.8 380.5,90.7 380.7,86.7 380.8,78.5 381.0,102.0 381.1,102.1 381.3,94.8 381.4,93.8 381.6,101.9 381.7,82.0 381.9,81.8 382.0,82.6 382.2,87.3 382.3,88.1 382.5,82.5 382.6,80.5 382.8,78.7 382.9,84.5 383.1,86.4 383.2,94.8 383.4,93.4 383.5,96.8 383.7,101.3 383.8,100.8 384.0,106.6 384.1,96.3 384.3,93.1 384.4,83.2 384.6,86.3 384.7,90.6 384.9,92.9 385.0,95.9 385.2,87.9 385.3,110.3 385.5,103.3 385.6,103.1 385.8,100.5 385.9,97.8 386.1,83.4 386.2,89.2 386.4,100.0 386.5,91.1 386.7,99.3 386.8,102.4 387.0,95.9 387.1,87.1 387.3,82.7 387.4,83.7 387.6,100.2 387.7,98.0 387.9,87.8 388.0,98.2 388.2,86.2 388.3,86.8 388.5,89.0 388.6,94.7 388.8,98.9 388.9,109.3 389.1,89.5 389.2,104.2 389.4,103.8 389.5,103.4 389.7,100.9 389.8,93.6 390.0,92.5 390.1,93.8 390.3,82.7 390.4,84.0 390.6,97.5 390.7,68.6 390.9,81.9 391.0,74.0 391.2,78.5 391.3,76.4 391.5,75.7 391.6,76.3 391.8,76.5 391.9,83.7 392.1,79.3 392.2,88.0 392.4,89.4 392.5,78.2 392.7,91.4 392.8,82.3 393.0,90.2 393.1,93.6 393.3,83.7 393.4,89.3 393.6,94.6 393.7,95.1 393.9,98.0 394.0,121.2 394.2,90.6 394.3,94.6 394.5,87.7 394.6,89.0 394.8,82.0 394.9,84.7 395.1,78.5 395.2,87.4 395.4,93.9 395.5,91.6 395.7,88.0 395.8,85.3 396.0,92.0 396.1,80.1 396.3,85.5 396.4,90.9 396.6,92.7 396.7,93.1 396.9,101.0 397.0,109.0 397.2,97.5 397.3,95.2 397.5,94.3 397.6,88.9 397.8,90.5 397.9,104.8 398.1,106.7 398.2,108.6 398.4,105.1 398.5,107.6 398.7,112.0 398.8,107.7 399.0,113.0 399.1,112.5 399.3,113.0 399.4,115.8 399.6,105.9 399.7,102.0 399.9,87.2 400.0,94.6 400.2,96.3 400.3,90.9 400.5,82.2 400.6,77.2 400.8,77.6 400.9,75.0 401.1,77.4 401.2,74.9 401.4,87.4 401.5,86.9 401.7,105.6 401.8,103.8 402.0,94.9 402.1,80.4 402.3,79.5 402.4,72.4 402.6,74.1 402.7,68.6 402.9,81.8 403.0,76.1 403.2,90.7 403.3,82.8 403.5,80.4 403.6,73.9 403.8,71.8 403.9,77.4 404.1,76.6 404.2,82.4 404.4,80.2 404.5,82.9 404.7,83.6 404.8,77.8 405.0,86.3 405.1,85.6 405.3,75.9 405.4,81.1 405.6,81.7 405.7,80.2 405.9,85.7 406.0,90.0 406.2,86.6 406.3,89.1 406.5,85.4 406.6,64.2 406.8,76.5 406.9,76.2 407.1,78.9 407.2,100.4 407.4,78.3 407.5,73.2 407.7,80.5 407.8,75.5 408.0,71.6 408.1,67.2 408.3,68.3 408.4,68.1 408.6,66.9 408.7,69.9 408.9,71.6 409.0,68.1 409.2,92.8 409.3,87.3 409.5,93.5 409.6,92.9 409.8,98.3 409.9,90.4 410.1,97.9 410.2,98.8 410.4,95.8 410.5,88.5 410.7,92.3 410.8,97.7 411.0,101.8 411.1,89.8 411.3,80.9 411.4,94.8 411.6,90.9 411.7,91.8 411.9,96.3 412.0,92.4 412.2,83.2 412.3,87.2 412.5,92.6 412.6,92.5 412.8,95.4 412.9,98.7 413.1,105.3 413.2,102.1 413.4,104.9 413.5,102.8 413.7,102.1 413.8,113.6 414.0,110.6 414.1,110.4 414.3,109.6 414.4,109.2 414.6,98.3 414.7,66.4 414.9,93.1 415.0,101.9 415.2,102.7 415.3,92.6 415.5,92.4 415.6,93.7 415.8,86.5 415.9,85.6 416.1,81.3 416.2,77.2 416.4,79.9 416.5,82.2 416.7,94.6 416.8,88.6 417.0,100.0 417.1,103.0 417.3,104.9 417.4,99.0 417.6,101.4 417.7,94.7 417.9,88.1 418.0,80.1 418.2,80.5 418.3,73.9 418.5,74.5 418.6,76.1 418.8,77.6 418.9,80.6 419.1,85.5 419.2,105.9 419.4,92.9 419.5,89.2 419.7,84.1 419.8,74.5 420.0,71.9 420.1,73.9 420.3,69.7 420.4,78.4 420.6,87.2 420.7,87.7 420.9,93.3 421.0,102.3 421.2,106.7 421.3,105.7 421.5,104.4 421.6,104.2 421.8,100.3 421.9,102.5 422.1,77.3 422.2,72.1 422.4,87.7 422.5,69.7 422.7,80.9 422.8,78.0 423.0,93.4 423.1,90.6 423.3,77.7 423.4,83.0 423.6,76.1 423.7,82.0 423.9,77.8 424.0,85.2 424.2,100.7 424.3,105.2 424.5,106.3 424.6,108.5 424.8,96.7 424.9,85.3 425.1,89.3 425.2,78.8 425.4,81.9 425.5,92.9 425.7,88.1 425.8,112.5 426.0,75.0 426.1,89.9 426.3,89.8 426.4,97.1 426.6,97.4 426.7,104.6 426.9,104.8 427.0,98.8 427.2,98.4 427.3,80.4 427.5,91.0 427.6,88.5 427.8,88.9 427.9,112.6 428.1,89.2 428.2,80.0 428.4,86.8 428.5,79.8 428.7,81.0 428.8,86.5 429.0,89.0 429.1,77.5 429.3,79.2 429.4,82.2 429.6,85.2 429.7,90.6 429.9,103.3 430.0,111.2 430.2,109.9 430.3,115.2 430.5,116.9 430.6,105.5 430.8,116.3 430.9,102.6 431.1,107.9 431.2,108.1 431.4,90.8 431.5,102.9 431.7,72.0 431.8,79.0 432.0,77.4 432.1,79.0 432.3,77.6 432.4,73.8 432.6,81.9 432.7,82.3 432.9,78.8 433.0,77.1 433.2,78.4 433.3,75.4 433.5,85.1 433.6,80.6 433.8,92.3 433.9,133.4 434.1,120.2 434.2,105.3 434.4,114.7 434.5,107.2 434.7,90.7 434.8,94.1 435.0,92.8 435.1,94.2 435.3,102.5 435.4,115.6 435.6,100.4 435.7,110.0 435.9,110.6 436.0,109.4 436.2,103.7 436.3,91.5 436.5,93.4 436.6,98.3 436.8,95.8 436.9,88.2 437.1,106.1 437.2,105.8 437.4,95.0 437.5,78.7 437.7,80.5 437.8,88.3 438.0,112.6 438.1,89.4 438.3,100.2 438.4,107.4 438.6,97.1 438.7,98.3 438.9,89.8 439.0,99.3 439.2,92.5 439.3,91.4 439.5,99.2 439.6,105.6 439.8,101.5 439.9,96.1 440.1,85.2 440.2,86.3 440.4,92.7 440.5,95.2 440.7,107.7 440.8,105.6 441.0,112.0 441.1,105.8 441.3,99.3 441.4,90.7 441.6,102.4 441.7,91.5 441.9,95.1 442.0,93.8 442.2,106.7 442.3,106.0 442.5,109.6 442.6,107.5 442.8,107.4 442.9,111.8 443.1,111.7 443.2,106.0 443.4,108.0 443.5,104.4 443.7,102.9 443.8,109.3 444.0,112.5 444.1,108.7 444.3,108.9 444.4,109.5 444.6,109.0 444.7,76.4 444.9,99.7 445.0,108.1 445.2,135.0 445.3,103.7 445.5,100.3 445.6,101.3 445.8,98.7 445.9,100.0 446.1,92.4 446.2,101.9 446.4,99.3 446.5,98.0 446.7,95.9 446.8,91.8 447.0,90.8 447.1,95.0 447.3,88.9 447.4,86.4 447.6,78.3 447.7,84.0 447.9,81.7 448.0,100.0 448.2,75.4 448.3,78.9 448.5,74.8 448.6,64.1 448.8,62.2 448.9,61.6 449.1,62.0 449.2,61.1 449.4,68.8 449.5,44.7 449.7,61.2 449.8,61.2 450.0,86.0 450.1,66.1 450.3,62.8 450.4,60.9 450.6,49.6 450.7,46.9 450.9,40.5 451.0,39.0 451.2,38.3 451.3,43.0 451.5,22.5 451.6,45.5 451.8,41.2 451.9,63.0 452.1,39.8 452.2,40.2 452.4,44.0 452.5,22.5 452.7,43.6 452.8,41.2 453.0,44.6 453.1,42.8 453.3,48.5 453.4,49.4 453.6,52.9 453.7,56.5 453.9,55.4 454.0,76.0 454.2,57.6 454.3,41.4 454.5,56.0 454.6,59.7 454.8,57.7 454.9,55.3 455.1,62.5 455.2,62.5 455.4,59.0 455.5,60.0 455.7,59.4 455.8,61.4 456.0,63.6 456.1,65.1 456.3,64.0 456.4,65.2 456.6,67.6 456.7,68.0 456.9,67.7 457.0,76.0 457.2,70.6 457.3,71.0 457.5,70.5 457.6,70.6 457.8,68.6 457.9,72.7 458.1,73.0 458.2,74.3 458.4,70.8 458.5,72.7 458.7,69.1 458.8,66.8 459.0,69.0 459.1,68.6 459.3,70.3 459.4,72.5 459.6,76.1 459.7,75.0 459.9,80.2 460.0,92.0 460.2,81.4 460.3,81.0 460.5,84.8 460.6,85.7 460.8,87.5 460.9,90.3 461.1,91.8 461.2,87.6 461.4,90.1 461.5,90.4 461.7,90.4 461.8,88.2 462.0,80.0 462.1,93.9 462.3,93.6 462.4,94.7 462.6,93.3 462.7,90.0 462.9,88.8 463.0,104.0 463.2,86.1 463.3,87.8 463.5,90.1 463.6,91.0 463.8,91.8 463.9,91.0 464.1,97.7 464.2,98.1 464.4,100.5 464.5,96.6 464.7,98.0 464.8,99.4 465.0,86.0 465.1,93.2 465.3,97.6 465.4,96.0 465.6,92.3 465.7,98.8 465.9,101.3 466.0,118.0 466.2,93.6 466.3,94.7 466.5,94.1 466.6,91.1 466.8,90.4 466.9,98.0 467.1,100.4 467.2,96.1 467.4,89.5 467.5,90.5 467.7,88.9 467.8,92.1 468.0,112.6 468.1,97.8 468.3,97.1 468.4,99.5 468.6,98.7 468.7,98.2 468.9,99.4 469.0,81.0 469.2,102.7 469.3,93.6 469.5,94.3 469.6,95.5 469.8,91.9 469.9,96.3 470.1,99.6 470.2,106.1 470.4,102.6 470.5,102.3 470.7,103.9 470.8,102.4 471.0,115.0 471.1,106.0 471.3,107.3 471.4,101.5 471.6,107.4 471.7,100.9 471.9,102.0 472.0,92.0 472.2,96.1 472.3,101.8 472.5,106.7 472.6,106.5 472.8,109.5 472.9,111.5 473.1,111.5 473.2,111.3 473.4,111.5 473.5,109.7 473.7,103.7 473.8,118.2 474.0,112.5 474.1,114.4 474.3,114.2 474.4,118.8 474.6,117.5 474.7,117.5 474.9,121.6 475.0,90.0 475.2,119.4 475.3,116.8 475.5,111.9 475.6,111.8 475.8,107.8 475.9,112.5 476.1,112.4 476.2,119.9 476.4,114.7 476.5,124.4 476.7,132.2 476.8,132.7 477.0,137.0 477.1,136.9 477.3,141.2 477.4,130.6 477.6,126.0 477.7,123.2 477.9,113.6 478.0,111.9 478.2,102.3 478.3,100.3 478.5,101.1 478.6,88.9 478.8,100.1 478.9,104.1 479.1,104.3 479.2,97.7 479.4,98.4 479.5,102.2 479.7,93.5 479.8,96.3 480.0,96.3 480.1,92.0 480.3,96.7 480.4,98.0 480.6,95.5 480.7,94.4 480.9,93.5 481.0,91.3 481.2,91.2 481.3,90.2 481.5,94.3 481.6,91.7 481.8,93.2 481.9,92.8 482.1,87.5 482.2,87.3 482.4,87.0 482.5,85.9 482.7,85.3 482.8,85.5 483.0,83.0 483.1,84.3 483.3,83.2 483.4,94.2 483.6,80.8 483.7,80.5 483.9,82.7 484.0,79.6 484.2,89.3 484.3,91.9 484.5,93.2 484.6,91.5 484.8,90.3 484.9,82.6 485.1,84.3 485.2,63.0 485.4,89.8 485.5,86.5 485.7,82.4 485.8,84.6 486.0,76.0 486.1,78.6 486.3,81.2 486.4,76.1 486.6,72.9 486.7,74.4 486.9,79.5 487.0,78.6 487.2,77.7 487.3,87.4 487.5,82.5 487.6,87.8 487.8,84.1 487.9,81.5 488.1,93.0 488.2,75.5 488.4,82.7 488.5,84.2 488.7,91.9 488.8,98.2 489.0,99.1 489.1,110.5 489.3,94.0 489.4,76.0 489.6,75.9 489.7,75.1 489.9,69.4 490.0,73.4 490.2,78.6 490.3,80.6 490.5,73.4 490.6,90.7 490.8,112.4 490.9,109.3 491.1,131.6 491.2,121.7 491.4,113.6 491.5,105.9 491.7,95.0 491.8,78.1 492.0,54.4 492.1,97.0 492.3,79.4 492.4,70.5 492.6,83.1 492.7,88.6 492.9,73.1 493.0,83.4 493.2,108.6 493.3,111.6 493.5,109.0 493.6,106.7 493.8,103.0 493.9,49.6 494.1,72.8 494.2,75.6 494.4,59.5 494.5,57.2 494.7,57.4 494.8,61.4 495.0,107.6 495.1,63.1 495.3,80.7 495.4,102.6 495.6,88.9 495.7,88.9 495.9,96.6 496.0,90.9 496.2,88.0 496.3,76.9 496.5,99.4 496.6,78.4 496.8,76.7 496.9,59.2 497.1,77.3 497.2,78.9 497.4,81.1 497.5,74.0 497.7,96.3 497.8,93.0 498.0,101.3 498.1,72.1 498.3,77.0 498.4,93.8 498.6,71.9 498.7,45.8 498.9,87.1 499.0,74.6 499.2,68.7 499.3,95.7 499.5,73.7 499.6,113.4 499.8,102.6 499.9,98.2 500.1,100.7 500.2,104.7 500.4,98.5 500.5,91.0 500.7,68.8 500.8,90.1 501.0,97.7 501.1,96.1 501.3,104.0 501.4,93.7 501.6,104.8 501.7,95.8 501.9,100.6 502.0,97.1 502.2,99.5 502.3,88.4 502.5,104.1 502.6,97.2 502.8,94.0 502.9,106.5 503.1,96.7 503.2,89.9 503.4,85.3 503.5,85.9 503.7,86.7 503.8,82.5 504.0,83.5 504.1,100.9 504.3,76.0 504.4,72.6 504.6,80.1 504.7,76.3 504.9,74.9 505.0,91.3 505.2,84.6 505.3,110.1 505.5,115.3 505.6,109.3 505.8,112.7 505.9,109.8 506.1,103.7 506.2,107.1 506.4,97.2 506.5,95.8 506.7,106.9 506.8,107.7 507.0,85.5 507.1,90.3 507.3,101.4 507.4,93.0 507.6,85.9 507.7,86.2 507.9,78.0 508.0,75.2 508.2,82.5 508.3,99.1 508.5,112.0 508.6,106.6 508.8,116.6 508.9,104.7 509.1,84.0 509.2,67.8 509.4,81.3 509.5,85.7 509.7,91.5 509.8,111.1 510.0,89.2 510.1,103.5 510.3,101.3 510.4,111.2 510.6,80.2 510.7,100.0 510.9,93.4 511.0,90.2 511.2,83.8 511.3,86.9 511.5,89.3 511.6,95.0 511.8,97.1 511.9,110.5 512.1,111.0 512.2,108.0 512.4,87.4 512.5,83.9 512.7,95.6 512.8,107.7 513.0,101.3 513.1,123.0 513.3,113.7 513.4,114.2 513.6,95.3 513.7,101.2 513.9,113.7 514.0,80.3 514.2,98.5 514.3,106.4 514.5,106.8 514.6,116.8 514.8,117.4 514.9,113.2 515.1,108.1 515.2,103.0 515.4,105.0 515.5,117.6 515.7,101.0 515.8,104.6 516.0,93.2 516.1,98.7 516.3,103.6 516.4,102.7 516.6,99.6 516.7,99.7 516.9,98.0 517.0,88.5 517.2,84.8 517.3,92.9 517.5,100.8 517.6,132.5 517.8,98.0 517.9,92.6 518.1,113.9 518.2,112.6 518.4,109.5 518.5,113.4 518.7,111.5 518.8,95.4 519.0,105.1 519.1,120.3 519.3,120.7 519.4,123.9 519.6,123.5 519.7,122.0 519.9,126.8 520.0,110.2 520.2,96.8 520.3,96.8 520.5,97.8 520.6,93.0 520.8,93.8 520.9,99.6 521.1,93.9 521.2,106.3 521.4,94.6 521.5,108.1 521.7,96.6 521.8,66.9 522.0,90.6 522.1,88.5 522.3,93.1 522.4,91.3 522.6,83.8 522.7,117.2 522.9,76.2 523.0,80.3 523.2,76.1 523.3,95.8 523.5,88.6 523.6,94.2 523.8,93.8 523.9,93.4 524.1,82.1 524.2,88.2 524.4,92.3 524.5,87.9 524.7,87.6 524.8,99.4 525.0,106.5 525.1,92.3 525.3,97.2 525.4,99.5 525.6,123.0 525.7,114.5 525.9,115.3 526.0,115.6 526.2,116.8 526.3,116.2 526.5,110.1 526.6,72.6 526.8,111.9 526.9,112.6 527.1,110.1 527.2,103.6 527.4,108.5 527.5,109.5 527.7,99.1 527.8,103.5 528.0,104.2 528.1,91.8 528.3,89.5 528.4,115.3 528.6,97.9 528.7,95.6 528.9,105.2 529.0,102.9 529.2,100.4 529.3,110.0 529.5,107.9 529.6,86.1 529.8,89.3 529.9,104.2 530.1,97.3 530.2,97.6 530.4,73.6 530.5,106.7 530.7,92.7 530.8,90.2 531.0,98.6 531.1,100.5 531.3,109.9 531.4,106.7 531.6,100.6 531.7,97.1 531.9,102.9 532.0,89.9 532.2,89.2 532.3,109.5 532.5,111.9 532.6,99.0 532.8,97.6 532.9,84.7 533.1,71.6 533.2,128.7 533.4,76.4 533.5,79.7 533.7,79.3 533.8,103.3 534.0,89.5 534.1,103.4 534.3,89.6 534.4,79.9 534.6,95.9 534.7,83.5 534.9,88.7 535.0,93.7 535.2,105.6 535.3,94.9 535.5,93.8 535.6,77.7 535.8,88.6 535.9,82.7 536.1,77.3 536.2,59.2 536.4,96.8 536.5,84.6 536.7,68.5 536.8,75.6 537.0,80.2"/>
<polyline fill="none" stroke="#ff0000" stroke-width="0.9" stroke-linejoin="round" points="45.5,279.1 46.0,285.1 46.4,286.6 46.9,284.6 47.3,283.3 47.8,282.0 48.2,283.3 48.6,289.5 49.0,298.6 49.4,302.0 49.8,295.0 50.3,277.2 50.7,265.1 51.2,271.7 51.6,278.3 52.1,287.1 52.4,281.6 52.8,270.8 53.2,263.7 53.7,274.5 54.1,278.4 54.5,288.8 55.0,283.2 55.4,272.3 55.9,265.5 56.3,262.6 56.7,262.0 57.0,261.1 57.5,256.7 57.9,260.7 58.4,260.5 58.7,261.2 59.0,261.5 59.3,265.9 59.7,264.3 60.0,257.8 60.3,255.5 60.7,267.5 61.2,273.1 61.6,282.5 62.2,274.4 62.7,264.5 63.2,254.8 63.7,258.3 64.2,268.2 64.7,277.7 65.2,276.5 65.6,285.6 66.1,289.0 66.7,283.3 67.3,286.5 68.0,279.6 68.3,275.9 68.6,270.1 68.9,264.3 69.4,266.2 70.0,278.4 70.5,283.3 70.9,272.5 71.4,273.8 71.8,267.5 72.1,270.9 72.4,268.2 72.8,270.5 73.1,270.2 73.4,265.3 73.7,267.0 74.0,273.7 74.4,282.8 74.7,288.4 75.2,287.8 75.7,282.2 76.2,276.1 76.7,269.8 77.1,263.4 77.6,252.4 78.0,259.0 78.5,278.9 78.9,289.0 79.3,283.6 79.7,276.1 80.1,275.1 80.5,276.0 81.0,286.9 81.4,291.4 81.7,276.9 82.0,271.8 82.4,263.0 82.8,264.2 83.3,267.7 83.7,264.0 84.1,266.1 84.5,278.3 84.9,289.1 85.4,278.1 86.0,259.3 86.6,242.2 87.1,251.6 87.6,258.6 88.1,266.5 88.6,262.2 89.1,263.3 89.6,260.1 90.1,262.9 90.5,265.7 91.0,268.8 91.3,261.0 91.6,259.1 91.9,248.3 92.5,251.8 93.0,267.8 93.5,271.8 93.9,273.9 94.4,264.0 94.8,259.7 95.3,260.7 95.7,274.1 96.2,276.8 96.7,264.5 97.2,256.7 97.7,250.7 98.2,258.1 98.7,270.0 99.2,280.8 99.9,269.5 100.5,260.0 101.2,244.6 101.6,259.2 102.0,267.0 102.5,280.3 102.9,271.1 103.4,270.6 103.8,272.9 104.2,267.1 104.6,267.1 105.0,262.2 105.6,270.3 106.3,273.2 106.9,275.9 107.4,268.9 107.8,261.0 108.3,256.6 108.7,262.9 109.1,268.4 109.6,278.8 110.1,279.5 110.6,281.1 111.1,280.8 111.6,279.1 112.1,288.5 112.7,292.7 113.1,292.6 113.4,287.9 113.8,282.6 114.3,275.3 114.9,278.1 115.4,267.1 115.8,271.2 116.3,271.1 116.7,263.3 117.2,272.9 117.6,281.1 118.1,288.1 118.6,284.6 119.1,278.8 119.6,273.5 120.1,264.4 120.6,263.9 121.1,259.5 121.6,266.7 122.0,271.3 122.5,279.5 122.9,272.9 123.4,262.8 123.8,253.4 124.2,260.9 124.6,266.6 125.0,275.2 125.4,270.3 125.9,269.4 126.3,264.7 126.6,269.7 126.9,267.1 127.3,274.8 127.8,265.6 128.3,259.3 128.8,255.0 129.2,258.6 129.7,266.2 130.1,270.1 130.6,257.7 131.2,248.8 131.7,242.5 132.1,250.2 132.6,254.8 133.0,266.7 133.3,256.5 133.7,261.1 134.0,249.4 134.5,257.9 135.0,264.1 135.5,267.7 136.0,272.0 136.4,276.7 136.9,276.5 137.4,275.7 137.9,276.5 138.4,272.5 138.8,267.3 139.3,259.9 139.7,254.6 140.2,255.8 140.6,265.5 141.1,267.3 141.6,260.8 142.1,261.7 142.6,258.1 143.1,261.2 143.5,258.1 143.9,261.3 144.5,266.2 145.0,273.9 145.5,281.1 145.9,269.0 146.4,271.4 146.8,265.1 147.3,260.7 147.8,255.5 148.4,256.1 148.9,260.6 149.4,272.3 149.9,277.2 150.3,270.4 150.8,268.0 151.2,258.8 151.6,260.9 151.9,274.8 152.2,282.3 152.7,275.6 153.2,272.7 153.7,267.0 154.2,265.0 154.6,264.1 155.1,269.4 155.6,261.9 156.1,254.4 156.6,249.0 157.1,261.9 157.5,263.8 157.9,273.8 158.4,271.4 158.8,265.9 159.3,259.6 159.8,263.2 160.3,272.1 160.8,276.5 161.3,273.2 161.7,264.5 162.2,262.2 162.7,268.8 163.2,269.4 163.7,271.1 164.1,272.2 164.6,260.0 165.0,260.2 165.6,265.3 166.1,267.2 166.6,277.0 166.9,277.6 167.2,273.4 167.5,277.6 168.0,280.4 168.4,280.4 168.9,290.2 169.3,284.7 169.6,279.1 170.0,270.6 170.5,273.5 170.9,277.6 171.4,279.0 171.8,281.4 172.3,277.0 172.7,275.5 173.1,272.4 173.5,263.2 173.9,261.4 174.3,272.8 174.8,275.6 175.2,280.9 175.8,276.0 176.5,267.4 177.1,263.0 177.7,265.3 178.3,272.6 178.9,275.3 179.3,283.4 179.8,281.1 180.2,284.9 180.7,282.6 181.2,279.6 181.8,278.2 182.3,275.0 182.8,280.0 183.3,281.3 183.7,277.5 184.2,284.6 184.6,285.6 185.1,275.9 185.5,259.3 186.0,253.5 186.5,258.8 187.0,260.5 187.5,264.7 188.1,254.3 188.8,249.6 189.4,243.5 189.9,250.3 190.4,260.7 191.0,274.3 191.4,271.0 191.9,270.5 192.3,264.8 192.7,268.2 193.2,276.9 193.6,283.6 194.0,277.5 194.4,257.0 194.8,257.0 195.2,261.5 195.7,273.0 196.1,278.0 196.6,285.5 197.0,284.1 197.5,283.5 198.0,278.7 198.5,273.2 199.0,268.8 199.5,277.2 200.0,279.8 200.5,282.7 201.0,284.5 201.4,279.0 201.9,276.2 202.3,264.9 202.8,256.6 203.2,249.0 203.7,251.6 204.3,273.5 204.8,281.4 205.2,277.8 205.7,279.1 206.1,273.6 206.4,266.8 206.8,250.6 207.1,250.2 207.6,259.0 208.1,269.2 208.6,272.5 209.1,272.5 209.6,261.6 210.1,260.5 210.7,262.6 211.3,260.0 211.9,259.6 212.4,265.0 212.9,272.4 213.4,277.3 213.8,280.5 214.3,278.7 214.7,281.2 215.3,281.8 215.8,279.4 216.3,279.3 216.6,275.2 216.9,273.7 217.2,267.9 217.7,274.0 218.1,281.8 218.6,292.6 219.1,281.4 219.6,274.7 220.1,262.1 220.8,254.4 221.4,248.1 222.0,244.7 222.5,250.5 223.1,256.7 223.6,259.2 224.0,262.0 224.5,267.3 224.9,272.4 225.4,268.2 225.8,280.4 226.2,282.6 226.8,281.0 227.3,275.1 227.8,273.6 228.3,281.6 228.8,281.5 229.3,284.2 229.8,279.3 230.2,270.1 230.7,267.0 231.1,268.3 231.6,268.7 232.0,273.3 232.4,266.9 232.8,264.1 233.2,256.1 233.6,262.2 234.0,275.8 234.5,279.7 234.9,277.8 235.4,270.7 235.8,263.7 236.4,261.2 236.9,260.4 237.4,260.5 237.9,261.5 238.4,258.0 238.9,263.7 239.4,252.8 239.8,250.8 240.3,242.9 240.8,248.5 241.3,261.2 241.8,269.5 242.2,259.4 242.7,261.5 243.1,255.5 243.6,261.6 244.1,283.3 244.7,289.2 245.2,283.4 245.7,279.5 246.2,274.4 246.6,283.0 247.0,284.4 247.4,286.3 248.0,279.9 248.6,270.1 249.3,268.4 249.7,273.6 250.2,267.9 250.6,275.0 251.3,274.8 251.9,276.5 252.5,273.2 253.0,266.2 253.4,260.6 253.9,258.3 254.4,259.8 254.9,262.8 255.4,267.3 255.9,274.9 256.4,273.8 257.0,276.1 257.6,283.4 258.2,281.4 258.9,292.5 259.3,276.9 259.8,274.8 260.2,255.6 260.7,261.6 261.1,266.7 261.6,271.8 261.9,276.8 262.3,280.8 262.7,276.8 263.2,283.4 263.6,287.7 264.1,288.7 264.5,289.0 265.0,286.7 265.4,279.2 265.9,278.3 266.4,280.2 266.9,276.3 267.4,275.6 267.8,276.5 268.3,270.7 268.8,267.4 269.3,256.1 269.8,249.1 270.3,254.2 270.7,255.7 271.2,263.0 271.7,258.0 272.2,263.4 272.7,258.5 273.2,259.1 273.7,255.3 274.2,255.9 274.7,262.9 275.1,263.1 275.6,265.4 276.0,265.1 276.5,275.6 276.9,275.7 277.6,263.4 278.3,254.3 279.0,242.1 279.5,245.4 279.9,251.7 280.4,260.1 280.8,269.5 281.3,275.0 281.7,286.3 282.0,291.1 282.3,292.1 282.7,295.1 283.2,289.8 283.7,286.4 284.2,283.2 284.7,277.7 285.2,275.1 285.7,266.9 286.2,268.4 286.6,258.2 287.1,257.0 287.5,255.5 288.0,264.0 288.4,265.5 288.9,272.7 289.4,276.8 289.9,278.2 290.5,274.8 291.0,273.9 291.5,272.8 292.0,282.2 292.5,284.8 293.0,289.6 293.4,282.5 293.8,269.5 294.2,263.2 294.6,263.0 294.9,269.1 295.3,269.7 295.8,276.4 296.2,283.0 296.7,284.1 297.2,273.9 297.7,266.8 298.2,256.2 298.6,260.9 299.1,271.0 299.5,274.0 300.0,275.6 300.6,271.6 301.1,270.4 301.5,280.4 302.0,282.8 302.4,290.8 302.9,286.9 303.3,274.2 303.8,267.2 304.4,260.9 305.0,256.0 305.7,247.8 306.2,250.2 306.7,253.6 307.2,253.2 307.7,253.5 308.2,258.5 308.7,259.4 309.0,258.5 309.3,261.4 309.5,267.1 310.0,270.6 310.4,271.6 310.9,278.3 311.3,278.4 311.8,268.1 312.2,264.5 312.6,259.2 313.0,249.5 313.4,247.3 313.8,253.8 314.3,268.3 314.7,274.6 315.2,282.8 315.6,284.0 316.1,284.6 316.6,282.4 317.1,279.0 317.6,268.1 318.1,272.2 318.6,264.4 319.1,270.6 319.6,259.4 320.0,259.8 320.5,251.2 320.9,245.0 321.4,254.7 321.8,255.6 322.2,253.7 322.6,259.2 323.0,258.1 323.5,251.6 324.1,249.0 324.7,242.7 325.2,246.0 325.7,259.4 326.2,265.9 326.5,264.9 326.9,277.6 327.2,277.4 327.6,274.7 328.1,284.0 328.5,280.1 328.9,283.4 329.3,292.3 329.7,291.7 330.0,286.5 330.3,284.0 330.6,274.1 331.1,283.1 331.5,283.2 332.0,293.5 332.4,292.4 332.9,280.8 333.3,278.2 333.8,273.0 334.3,273.8 334.9,271.6 335.3,274.7 335.7,264.2 336.2,264.7 336.7,270.2 337.2,280.5 337.7,282.1 338.2,279.7 338.6,275.9 339.1,273.7 339.6,276.4 340.1,275.2 340.6,278.3 341.1,274.5 341.6,274.4 342.1,270.4 342.6,264.4 343.0,262.1 343.5,258.2 343.8,262.3 344.1,251.4 344.4,250.5 345.0,259.2 345.5,253.1 346.0,262.7 346.4,265.3 346.9,273.7 347.3,280.6 347.8,275.2 348.2,272.5 348.7,263.6 349.2,253.2 349.7,250.4 350.2,254.8 350.7,257.3 351.2,255.4 351.7,262.5 352.4,264.3 353.0,279.3 353.6,283.8 354.1,274.3 354.5,266.8 355.0,264.3 355.4,262.1 355.9,269.6 356.3,267.8 356.8,268.7 357.4,264.4 357.9,261.6 358.4,264.3 358.9,272.8 359.4,276.1 359.8,273.2 360.3,269.6 360.7,268.0 361.2,264.8 361.6,274.7 362.1,270.3 362.6,269.0 363.1,278.5 363.6,277.2 364.1,279.2 364.6,280.6 365.2,286.8 365.6,276.4 366.0,269.2 366.5,262.8 366.9,268.8 367.4,273.8 367.8,279.3 368.4,272.5 368.9,268.9 369.4,260.5 369.7,256.3 370.0,255.1 370.3,253.7 370.8,249.1 371.2,242.8 371.7,240.1 372.1,257.1 372.4,272.0 372.8,293.9 373.3,277.4 373.7,265.2 374.2,253.4 374.4,262.1 374.7,269.5 375.0,280.7 375.4,274.1 375.9,274.3 376.3,265.3 376.7,266.5 377.1,276.9 377.5,273.0 377.9,277.2 378.3,276.0 378.8,271.3 379.2,268.5 379.7,275.4 380.1,275.7 380.5,280.4 380.9,280.0 381.3,282.7 381.7,281.7 382.2,269.9 382.6,269.4 383.0,274.2 383.3,277.1 383.6,283.7 384.1,285.1 384.6,277.9 385.1,269.4 385.6,267.2 386.0,263.0 386.5,259.8 386.9,258.1 387.4,254.9 387.8,259.5 388.2,253.9 388.6,253.4 389.0,251.9 389.4,252.6 389.9,259.6 390.3,260.2 390.7,260.1 391.2,261.6 391.6,266.4 392.2,267.6 392.7,263.2 393.2,261.0 393.5,265.0 393.8,270.3 394.1,276.4 394.5,275.2 394.8,290.0 395.1,289.2 395.5,283.5 396.0,284.7 396.4,276.4 396.8,273.2 397.1,268.1 397.4,265.7 397.8,274.6 398.2,284.9 398.5,288.2 399.0,287.0 399.4,273.8 399.9,271.0 400.3,273.6 400.8,272.7 401.2,273.8 401.7,264.7 402.3,257.5 402.8,253.1 403.2,256.3 403.7,262.5 404.1,270.6 404.5,269.2 404.9,263.1 405.3,260.7 405.7,265.1 406.2,251.0 406.6,248.6 407.1,257.9 407.5,262.5 407.9,263.1 408.5,260.6 409.0,263.3 409.5,268.3 409.9,269.5 410.4,270.9 410.8,276.2 411.3,275.7 411.8,263.8 412.4,263.5 412.8,257.7 413.3,266.4 413.7,259.1 414.0,264.1 414.3,264.0 414.7,268.0 415.0,255.9 415.4,257.6 415.8,250.5 416.3,254.7 416.7,263.9 417.2,273.1 417.6,272.2 418.0,269.7 418.5,264.9 418.9,266.4 419.3,275.7 419.6,278.1 420.1,279.5 420.5,270.9 421.0,269.8 421.4,264.3 421.9,266.4 422.3,254.5 422.8,256.2 423.4,261.9 423.9,262.2 424.3,268.7 424.8,271.2 425.2,278.2 425.7,281.6 426.1,282.0 426.6,286.1 426.9,284.6 427.3,284.6 427.7,279.5 428.1,278.0 428.6,275.5 429.0,273.0 429.4,278.0 429.8,286.1 430.2,289.9 430.6,282.5 431.1,276.7 431.5,270.1 431.9,271.4 432.2,264.1 432.5,260.2 432.9,274.0 433.4,283.8 433.8,301.8 434.2,291.1 434.6,277.5 435.0,273.3 435.4,265.3 435.9,264.6 436.3,264.7 436.8,264.5 437.2,273.1 437.7,271.5 438.2,271.6 438.7,270.9 439.2,268.5 439.7,270.7 440.2,269.0 440.7,268.6 441.2,266.8 441.6,268.8 442.1,263.4 442.5,278.1 443.0,289.1 443.4,302.3 443.8,293.6 444.2,293.0 444.5,278.4 444.9,286.4 445.2,293.3 445.5,299.7 445.9,296.6 446.2,292.4 446.6,287.6 446.8,285.6 447.1,293.2 447.4,295.5 447.8,287.7 448.2,274.2 448.6,267.9 449.2,263.6 449.7,263.2 450.2,254.6 450.7,238.0 451.3,224.2 451.8,202.8 452.3,209.9 452.7,228.2 453.2,242.6 453.6,239.4 454.0,235.0 454.5,220.6 454.9,232.7 455.2,233.8 455.6,233.4 456.2,240.4 456.8,253.0 457.5,252.1 458.1,256.2 458.8,263.5 459.5,267.7 459.9,270.6 460.2,269.6 460.5,270.8 461.1,273.0 461.6,270.2 462.2,275.5 462.7,275.8 463.1,285.6 463.6,286.0 463.8,290.2 464.0,288.7 464.2,293.2 464.7,288.5 465.2,281.2 465.7,284.3 466.2,285.5 466.6,287.5 467.1,285.1 467.7,271.8 468.2,267.6 468.8,262.2 469.3,265.3 469.9,269.5 470.4,277.2 470.9,280.3 471.4,280.4 471.8,278.2 472.3,283.1 472.8,286.4 473.3,290.2 473.6,296.5 474.0,296.9 474.3,299.0 474.7,299.2 475.0,292.7 475.3,286.5 475.9,296.8 476.4,302.5 477.0,306.8 477.2,310.9 477.4,319.5 477.6,320.4 478.1,308.4 478.6,296.8 479.0,283.7 479.4,284.1 479.7,280.1 480.1,274.6 480.6,276.1 481.2,273.5 481.7,270.5 482.2,272.3 482.7,267.3 483.1,262.9 483.8,260.4 484.5,249.0 485.1,243.3 485.6,244.2 486.1,254.6 486.5,259.9 486.9,255.2 487.3,250.1 487.7,254.7 488.1,262.3 488.5,272.8 488.8,282.0 489.4,274.4 489.9,269.7 490.5,260.8 490.9,266.5 491.3,268.9 491.6,274.7 492.2,263.3 492.7,247.0 493.3,238.3 493.8,245.7 494.4,260.3 494.9,267.7 495.4,262.0 495.8,248.2 496.3,246.0 496.7,246.9 497.1,249.0 497.5,250.7 497.9,244.8 498.2,235.9 498.6,228.3 499.3,238.0 499.9,252.7 500.5,264.0 501.0,261.4 501.6,266.1 502.1,256.8 502.5,259.2 502.9,257.8 503.3,262.5 503.7,265.1 504.1,266.0 504.5,265.0 505.0,269.0 505.5,270.7 506.1,272.1 506.5,264.9 507.0,283.3 507.5,278.4 508.0,269.2 508.6,255.6 509.1,251.5 509.7,263.3 510.2,257.9 510.7,273.0 511.4,278.9 512.0,279.9 512.6,283.0 513.1,275.5 513.7,276.5 514.2,262.1 514.6,259.4 515.0,265.1 515.4,265.9 515.8,266.8 516.2,272.1 516.6,270.6 517.0,274.3 517.3,289.1 517.7,292.8 518.3,290.2 519.0,278.1 519.6,272.5 520.0,270.9 520.4,274.9 520.8,277.1 521.1,272.0 521.5,260.0 521.9,258.2 522.5,269.0 523.0,280.1 523.5,290.7 524.2,284.6 524.8,281.6 525.4,274.5 525.8,270.0 526.2,262.2 526.6,259.5 527.0,270.5 527.4,276.2 527.7,294.5 528.3,282.5 528.8,275.2 529.4,261.5 529.8,257.8 530.1,255.2 530.5,251.1 530.9,256.7 531.3,259.7 531.7,273.2 532.2,273.9 532.6,284.2 533.1,292.2 533.6,282.9 534.2,273.4 534.7,262.0 535.1,258.0 535.5,247.7 535.9,241.2 536.3,245.0 536.7,257.2 537.1,264.9"/>
<polyline fill="none" stroke="#404040" stroke-width="0.75" stroke-linejoin="round" points="45.5,279.8 46.2,281.9 46.9,285.2 47.5,284.4 48.2,282.9 48.8,291.2 49.4,296.0 50.0,282.5 50.7,270.6 51.4,276.9 52.1,284.8 52.6,277.2 53.2,267.8 53.9,276.3 54.5,283.6 55.2,277.8 55.9,267.3 56.5,267.1 57.0,264.5 57.7,262.8 58.4,260.7 58.9,262.7 59.3,265.5 59.8,262.2 60.3,258.3 61.0,267.4 61.6,277.0 62.4,267.3 63.2,260.9 63.9,269.2 64.7,277.6 65.4,279.9 66.1,282.7 67.0,280.5 68.0,278.9 68.5,273.2 68.9,268.6 69.7,275.9 70.5,279.1 71.1,274.7 71.8,268.6 72.3,271.6 72.8,272.3 73.2,270.1 73.7,269.4 74.2,274.4 74.7,281.9 75.5,278.3 76.2,275.5 76.9,268.4 77.6,260.6 78.2,271.9 78.9,284.0 79.5,278.8 80.1,274.1 80.7,280.7 81.4,285.1 81.9,277.1 82.4,268.4 83.0,265.8 83.7,265.4 84.3,272.0 84.9,279.7 85.7,264.5 86.6,250.8 87.3,258.7 88.1,266.2 88.9,261.2 89.6,259.0 90.3,262.8 91.0,267.1 91.5,261.2 91.9,253.5 92.7,261.3 93.5,269.0 94.2,263.6 94.8,260.4 95.5,265.6 96.2,272.4 96.9,263.8 97.7,254.9 98.5,265.7 99.2,275.4 100.2,265.0 101.2,252.6 101.8,263.9 102.5,275.5 103.2,271.3 103.8,270.3 104.4,269.2 105.0,264.7 105.9,269.2 106.9,272.9 107.6,268.1 108.3,262.3 108.9,270.7 109.6,278.3 110.4,278.0 111.1,280.1 111.9,283.6 112.7,287.9 113.2,284.7 113.8,280.8 114.6,277.3 115.4,271.2 116.0,269.7 116.7,268.0 117.4,270.8 118.1,281.1 118.8,276.8 119.6,273.1 120.4,269.0 121.1,264.0 121.8,271.0 122.5,275.0 123.1,267.5 123.8,258.2 124.4,268.6 125.0,273.0 125.6,270.5 126.3,264.7 126.8,269.9 127.3,271.9 128.0,265.8 128.8,257.5 129.5,260.6 130.1,267.1 130.9,258.3 131.7,247.5 132.3,256.4 133.0,263.9 133.5,258.5 134.0,254.3 134.7,261.8 135.5,267.9 136.2,270.3 136.9,271.7 137.6,270.6 138.4,270.7 139.1,264.4 139.7,258.5 140.4,261.7 141.1,265.6 141.8,263.0 142.6,259.8 143.3,260.9 143.9,263.0 144.7,269.5 145.5,274.7 146.2,268.4 146.8,266.6 147.6,263.5 148.4,261.1 149.1,265.1 149.9,273.1 150.6,267.2 151.2,262.5 151.7,270.7 152.2,277.7 153.0,271.9 153.7,266.1 154.4,267.4 155.1,268.9 155.8,261.6 156.6,254.1 157.3,264.1 157.9,270.2 158.6,264.1 159.3,260.7 160.1,267.7 160.8,272.6 161.5,266.1 162.2,263.2 162.9,266.3 163.7,270.5 164.4,267.2 165.0,263.5 165.8,268.6 166.6,275.8 167.1,276.3 167.5,276.3 168.2,282.1 168.9,286.1 169.5,278.4 170.0,273.5 170.7,275.5 171.4,277.7 172.0,275.7 172.7,274.6 173.3,267.8 173.9,265.7 174.5,271.3 175.2,277.4 176.2,271.2 177.1,266.9 178.0,273.3 178.9,276.5 179.5,278.3 180.2,282.3 181.0,282.8 181.8,279.2 182.5,278.1 183.3,278.2 184.0,281.7 184.6,280.7 185.3,270.1 186.0,258.3 186.7,261.6 187.5,263.8 188.5,257.2 189.4,248.6 190.2,260.8 191.0,270.9 191.6,269.3 192.3,264.4 193.0,273.3 193.6,277.9 194.2,270.1 194.8,263.1 195.5,268.3 196.1,276.5 196.8,274.8 197.5,279.5 198.2,275.3 199.0,272.1 199.8,276.3 200.5,278.8 201.2,277.1 201.9,274.5 202.6,266.5 203.2,258.2 204.0,266.4 204.8,275.3 205.4,272.0 206.1,270.2 206.6,263.2 207.1,256.9 207.8,263.1 208.6,268.3 209.4,263.4 210.1,262.7 211.0,263.9 211.9,263.3 212.6,267.8 213.4,275.7 214.1,276.7 214.7,278.0 215.5,277.9 216.3,279.3 216.8,274.6 217.2,270.9 217.9,275.7 218.6,283.0 219.3,271.6 220.1,263.1 221.1,257.6 222.0,252.7 222.8,255.8 223.6,261.5 224.2,268.5 224.9,269.5 225.6,274.1 226.2,279.7 227.0,276.2 227.8,274.2 228.6,276.9 229.3,280.9 230.0,273.3 230.7,268.2 231.3,267.5 232.0,272.8 232.6,266.3 233.2,260.5 233.8,267.8 234.5,274.3 235.2,267.4 235.8,264.1 236.6,262.4 237.4,260.7 238.1,260.1 238.9,262.4 239.6,255.7 240.3,249.2 241.0,258.7 241.8,267.5 242.5,263.7 243.1,258.8 243.9,272.0 244.7,284.1 245.4,278.8 246.2,275.1 246.8,280.5 247.4,283.9 248.3,277.0 249.3,271.3 250.0,273.1 250.6,274.1 251.6,273.3 252.5,270.8 253.2,266.3 253.9,262.5 254.7,264.2 255.4,269.1 256.2,272.2 257.0,273.8 257.9,278.0 258.9,285.0 259.5,272.8 260.2,262.6 260.9,267.5 261.6,275.0 262.1,276.6 262.7,276.3 263.4,280.8 264.1,285.7 264.7,279.7 265.4,279.0 266.2,278.3 266.9,275.8 267.6,275.5 268.3,270.2 269.0,265.0 269.8,255.6 270.5,258.0 271.2,261.7 271.9,260.4 272.7,258.9 273.5,259.6 274.2,259.0 274.9,262.3 275.6,263.4 276.2,266.5 276.9,269.4 278.0,259.1 279.0,251.5 279.7,258.8 280.4,264.4 281.0,273.4 281.7,281.0 282.2,283.0 282.7,288.3 283.4,284.1 284.2,280.9 285.0,275.7 285.7,269.8 286.4,265.9 287.1,262.1 287.7,264.7 288.4,266.1 289.2,272.4 289.9,276.7 290.7,275.8 291.5,273.6 292.2,278.7 293.0,284.1 293.6,274.7 294.2,268.5 294.7,270.4 295.3,270.8 296.0,276.6 296.7,279.1 297.4,273.1 298.2,262.4 298.9,268.2 299.5,274.1 300.3,272.5 301.1,271.0 301.7,278.6 302.4,282.7 303.1,276.6 303.8,267.0 304.7,260.8 305.7,253.7 306.4,255.8 307.2,256.1 308.0,257.4 308.7,260.5 309.1,264.2 309.5,266.5 310.2,268.5 310.9,272.5 311.5,268.5 312.2,264.8 312.8,260.3 313.4,256.1 314.0,263.7 314.7,272.6 315.4,273.6 316.1,279.6 316.8,273.5 317.6,269.3 318.4,269.5 319.1,268.9 319.8,262.1 320.5,255.5 321.1,254.6 321.8,254.6 322.4,256.1 323.0,256.6 323.8,253.3 324.7,248.3 325.5,257.8 326.2,265.2 326.7,268.7 327.2,274.3 327.9,276.7 328.5,279.1 329.1,283.3 329.7,288.4 330.2,281.7 330.6,277.2 331.3,281.7 332.0,289.7 332.6,283.5 333.3,277.6 334.1,275.1 334.9,274.7 335.5,274.1 336.2,268.4 337.0,273.9 337.7,279.7 338.4,276.3 339.1,273.6 339.8,274.3 340.6,276.0 341.4,274.7 342.1,268.8 342.8,263.4 343.5,260.3 344.0,257.8 344.4,255.7 345.2,258.6 346.0,263.5 346.6,267.9 347.3,272.7 348.0,268.3 348.7,264.1 349.4,263.1 350.2,259.6 351.0,259.6 351.7,263.2 352.7,269.8 353.6,276.6 354.3,272.9 355.0,265.3 355.7,266.7 356.3,269.4 357.1,266.5 357.9,264.1 358.6,268.0 359.4,274.1 360.1,268.3 360.7,268.8 361.4,270.5 362.1,272.4 362.9,275.0 363.6,274.9 364.4,278.0 365.2,282.3 365.8,271.9 366.5,266.0 367.2,270.7 367.8,274.9 368.6,267.2 369.4,259.3 369.9,259.4 370.3,257.0 371.0,252.9 371.7,246.7 372.3,264.1 372.8,282.2 373.5,270.7 374.2,258.2 374.6,266.0 375.0,278.1 375.6,273.8 376.3,266.9 376.9,270.3 377.5,273.4 378.1,274.1 378.8,272.2 379.5,274.8 380.1,274.8 380.7,277.0 381.3,279.8 382.0,275.4 382.6,271.4 383.1,274.5 383.6,279.8 384.4,272.2 385.1,269.7 385.8,265.6 386.5,261.9 387.1,260.9 387.8,259.5 388.4,255.9 389.0,255.0 389.6,258.3 390.3,259.9 391.0,262.7 391.6,265.3 392.4,265.5 393.2,264.6 393.7,269.0 394.1,275.4 394.6,277.4 395.1,283.7 395.8,281.5 396.4,277.5 396.9,275.0 397.4,271.2 398.0,277.2 398.5,283.6 399.2,276.9 399.9,271.2 400.6,271.6 401.2,272.8 402.0,265.6 402.8,258.8 403.4,262.7 404.1,267.9 404.7,262.1 405.3,261.2 405.9,258.8 406.6,254.5 407.3,257.3 407.9,263.8 408.7,264.6 409.5,266.3 410.2,268.9 410.8,272.3 411.6,268.9 412.4,264.9 413.0,260.5 413.7,260.1 414.2,264.3 414.7,265.8 415.2,261.5 415.8,255.7 416.5,264.3 417.2,271.0 417.8,269.9 418.5,265.9 419.1,269.2 419.6,274.4 420.3,268.1 421.0,269.4 421.7,264.9 422.3,259.7 423.1,264.0 423.9,265.1 424.5,271.9 425.2,275.8 425.9,278.5 426.6,282.5 427.1,281.0 427.7,279.8 428.4,277.4 429.0,274.4 429.6,276.5 430.2,283.0 430.9,277.1 431.5,272.8 432.0,269.1 432.5,267.0 433.2,280.8 433.8,290.7 434.4,281.4 435.0,273.7 435.7,273.2 436.3,269.0 437.0,270.1 437.7,271.2 438.4,267.4 439.2,267.5 440.0,271.9 440.7,271.0 441.4,268.6 442.1,268.5 442.8,282.3 443.4,294.7 444.0,290.2 444.5,281.6 445.0,288.5 445.5,296.8 446.1,290.2 446.6,286.6 447.0,289.8 447.4,290.5 448.0,278.3 448.6,265.9 449.4,258.4 450.2,253.7 451.0,233.6 451.8,216.1 452.5,226.7 453.2,238.2 453.8,232.7 454.5,224.8 455.0,230.5 455.6,236.9 456.5,244.7 457.5,250.9 458.5,260.0 459.5,265.2 460.0,269.4 460.5,270.5 461.4,275.1 462.2,276.2 462.9,282.1 463.6,285.1 463.9,285.7 464.2,290.1 465.0,288.6 465.7,284.1 466.4,284.4 467.1,283.9 467.9,275.9 468.8,268.2 469.6,271.6 470.4,277.6 471.1,276.8 471.8,279.9 472.6,283.2 473.3,289.3 473.8,293.0 474.3,296.7 474.8,292.8 475.3,291.7 476.2,297.1 477.0,304.4 477.3,306.9 477.6,310.8 478.3,299.2 479.0,286.1 479.6,281.5 480.1,277.6 480.9,273.2 481.7,269.2 482.4,267.7 483.1,263.0 484.1,255.5 485.1,248.7 485.8,255.3 486.5,260.4 487.1,256.9 487.7,255.9 488.3,266.2 488.8,275.6 489.7,268.8 490.5,261.8 491.1,266.5 491.6,270.8 492.5,258.1 493.3,246.5 494.1,253.6 494.9,263.1 495.6,254.8 496.3,247.3 496.9,248.8 497.5,251.4 498.0,245.3 498.6,236.8 499.6,249.3 500.5,259.7 501.3,256.6 502.1,256.4 502.7,260.6 503.3,263.4 503.9,264.0 504.5,265.9 505.3,268.8 506.1,270.6 506.8,271.8 507.5,274.3 508.3,265.2 509.1,259.7 509.9,267.0 510.7,271.9 511.7,274.8 512.6,276.7 513.4,269.8 514.2,265.8 514.8,265.0 515.4,268.7 516.0,269.5 516.6,271.6 517.1,277.2 517.7,285.7 518.7,279.2 519.6,273.6 520.2,276.2 520.8,277.2 521.3,272.6 521.9,264.4 522.7,273.5 523.5,283.5 524.5,280.8 525.4,274.7 526.0,271.6 526.6,265.6 527.2,274.4 527.7,284.3 528.6,272.1 529.4,263.9 530.0,262.9 530.5,259.9 531.1,265.8 531.7,270.4 532.4,278.5 533.1,281.0 533.9,273.8 534.7,263.3 535.3,257.1 535.9,249.0 536.5,258.0 537.1,262.9"/>
<text x="45.90" y="159.70" text-anchor="middle" class="tk">0</text>
<text x="127.77" y="159.70" text-anchor="middle" class="tk">5</text>
<text x="209.63" y="159.70" text-anchor="middle" class="tk">10</text>
<text x="291.50" y="159.70" text-anchor="middle" class="tk">15</text>
<text x="373.37" y="159.70" text-anchor="middle" class="tk">20</text>
<text x="455.23" y="159.70" text-anchor="middle" class="tk">25</text>
<text x="537.10" y="159.70" text-anchor="middle" class="tk">30</text>
<text x="41.50" y="140.15" text-anchor="end" class="tk">-20</text>
<text x="41.50" y="99.29" text-anchor="end" class="tk">0</text>
<text x="41.50" y="58.43" text-anchor="end" class="tk">20</text>
<text x="45.90" y="339.90" text-anchor="middle" class="tk">0</text>
<text x="127.77" y="339.90" text-anchor="middle" class="tk">5</text>
<text x="209.63" y="339.90" text-anchor="middle" class="tk">10</text>
<text x="291.50" y="339.90" text-anchor="middle" class="tk">15</text>
<text x="373.37" y="339.90" text-anchor="middle" class="tk">20</text>
<text x="455.23" y="339.90" text-anchor="middle" class="tk">25</text>
<text x="537.10" y="339.90" text-anchor="middle" class="tk">30</text>
<text x="41.50" y="323.47" text-anchor="end" class="tk">-20</text>
<text x="41.50" y="275.64" text-anchor="end" class="tk">0</text>
<text x="41.50" y="227.81" text-anchor="end" class="tk">20</text>
<text x="291.5" y="17.6" text-anchor="middle" class="ti">Original EEG signal</text>
<text x="291.5" y="197.7" text-anchor="middle" class="ti">Filtered processing of EEG signal</text>
<text x="291.5" y="177.0" text-anchor="middle" class="ti">time(s)</text>
<text x="291.5" y="357.0" text-anchor="middle" class="ti">time(s)</text>
<text transform="translate(16.7,82.9) rotate(-90)" text-anchor="middle" class="ti" style="font-size:15.8px">Amplitude/<tspan font-style="italic">μv</tspan></text>
<text transform="translate(16.7,262.4) rotate(-90)" text-anchor="middle" class="ti" style="font-size:15.8px">Amplitude/<tspan font-style="italic">μv</tspan></text>
<rect x="50" y="206.6" width="291.3" height="33.8" fill="#fff" stroke="#c4c4c4" stroke-width="1"/>
<line x1="52" y1="215.4" x2="67.2" y2="215.4" stroke="#e85454" stroke-width="0.9"/>
<line x1="52" y1="232" x2="67.2" y2="232" stroke="#7c7c7c" stroke-width="1.2"/>
<text x="68.3" y="220.5" class="lg">EEG signal after Butterworth high-pass filtering</text>
<text x="68.3" y="237.2" class="lg">EEG signal after wavelet denoising</text>
</svg>
</body></html>
